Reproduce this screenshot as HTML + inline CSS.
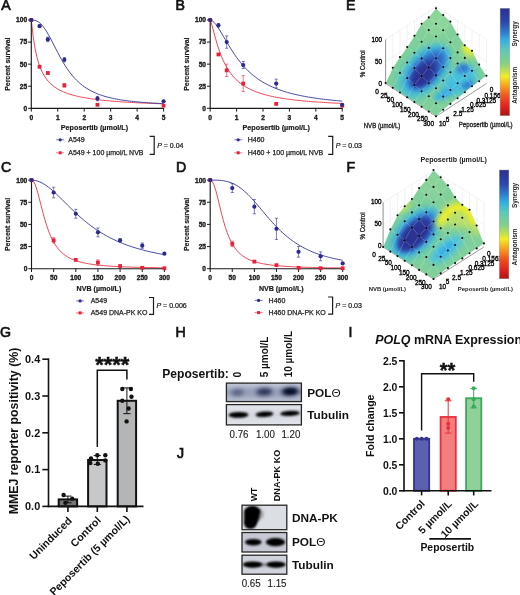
<!DOCTYPE html>
<html><head><meta charset="utf-8"><title>Figure</title>
<style>html,body{margin:0;padding:0;background:#fff}svg{display:block}text{font-family:"Liberation Sans", sans-serif}</style>
</head><body>
<svg width="520" height="595" viewBox="0 0 520 595">
<rect width="520" height="595" fill="#fff"/>
<text x="1.20" y="10.00" font-size="14.2" font-weight="normal" text-anchor="start" fill="#111" stroke="#111" stroke-width="0.65">A</text>
<text x="175.60" y="9.60" font-size="14.2" font-weight="normal" text-anchor="start" fill="#111" stroke="#111" stroke-width="0.65">B</text>
<text x="345.90" y="10.20" font-size="14.2" font-weight="normal" text-anchor="start" fill="#111" stroke="#111" stroke-width="0.65">E</text>
<text x="0.90" y="171.80" font-size="14.2" font-weight="normal" text-anchor="start" fill="#111" stroke="#111" stroke-width="0.65">C</text>
<text x="175.90" y="171.80" font-size="14.2" font-weight="normal" text-anchor="start" fill="#111" stroke="#111" stroke-width="0.65">D</text>
<text x="346.40" y="172.30" font-size="14.2" font-weight="normal" text-anchor="start" fill="#111" stroke="#111" stroke-width="0.65">F</text>
<text x="-0.10" y="337.20" font-size="14.2" font-weight="normal" text-anchor="start" fill="#111" stroke="#111" stroke-width="0.65">G</text>
<text x="175.40" y="337.00" font-size="14.2" font-weight="normal" text-anchor="start" fill="#111" stroke="#111" stroke-width="0.65">H</text>
<text x="348.50" y="337.00" font-size="14.2" font-weight="normal" text-anchor="start" fill="#111" stroke="#111" stroke-width="0.65">I</text>
<text x="177.10" y="458.00" font-size="14.2" font-weight="normal" text-anchor="start" fill="#111" stroke="#111" stroke-width="0.65">J</text>
<polyline points="31.30,20.00 33.19,36.87 35.08,48.73 36.97,57.33 38.86,63.81 40.75,68.87 42.64,72.91 44.53,76.22 46.42,78.97 48.31,81.30 50.20,83.29 52.09,85.01 53.98,86.52 55.87,87.84 57.76,89.02 59.65,90.06 61.54,91.01 63.43,91.86 65.32,92.63 67.21,93.34 69.10,93.98 70.99,94.58 72.88,95.12 74.77,95.63 76.66,96.10 78.55,96.53 80.44,96.94 82.33,97.32 84.22,97.67 86.11,98.00 88.00,98.32 89.89,98.61 91.78,98.89 93.67,99.15 95.56,99.40 97.45,99.64 99.34,99.86 101.23,100.08 103.12,100.28 105.01,100.47 106.90,100.66 108.79,100.83 110.68,101.00 112.57,101.16 114.46,101.31 116.35,101.46 118.24,101.60 120.13,101.74 122.02,101.87 123.91,102.00 125.80,102.12 127.69,102.23 129.58,102.34 131.47,102.45 133.36,102.56 135.25,102.66 137.14,102.75 139.03,102.85 140.92,102.94 142.81,103.03 144.70,103.11 146.59,103.20 148.48,103.28 150.37,103.35 152.26,103.43 154.15,103.50 156.04,103.57 157.93,103.64 159.82,103.71 161.71,103.77 163.60,103.84" fill="none" stroke="#ee3c4c" stroke-width="0.95"/>
<polyline points="31.30,20.00 33.19,20.07 35.08,20.40 36.97,21.10 38.86,22.23 40.75,23.81 42.64,25.87 44.53,28.36 46.42,31.24 48.31,34.44 50.20,37.89 52.09,41.50 53.98,45.20 55.87,48.90 57.76,52.56 59.65,56.12 61.54,59.54 63.43,62.79 65.32,65.87 67.21,68.74 69.10,71.43 70.99,73.92 72.88,76.23 74.77,78.36 76.66,80.32 78.55,82.12 80.44,83.78 82.33,85.31 84.22,86.71 86.11,87.99 88.00,89.17 89.89,90.26 91.78,91.26 93.67,92.18 95.56,93.03 97.45,93.81 99.34,94.54 101.23,95.20 103.12,95.82 105.01,96.40 106.90,96.93 108.79,97.42 110.68,97.88 112.57,98.31 114.46,98.70 116.35,99.07 118.24,99.42 120.13,99.74 122.02,100.05 123.91,100.33 125.80,100.60 127.69,100.85 129.58,101.08 131.47,101.30 133.36,101.51 135.25,101.70 137.14,101.89 139.03,102.06 140.92,102.22 142.81,102.38 144.70,102.52 146.59,102.66 148.48,102.79 150.37,102.92 152.26,103.04 154.15,103.15 156.04,103.26 157.93,103.36 159.82,103.45 161.71,103.55 163.60,103.63" fill="none" stroke="#3d3fa0" stroke-width="0.95"/>
<line x1="31.30" y1="19.60" x2="31.30" y2="108.85" stroke="#1a1a1a" stroke-width="1.15"/>
<line x1="30.75" y1="108.30" x2="164.10" y2="108.30" stroke="#1a1a1a" stroke-width="1.15"/>
<line x1="28.10" y1="108.30" x2="31.30" y2="108.30" stroke="#1a1a1a" stroke-width="1.0"/>
<text x="27.10" y="110.70" font-size="6.6" font-weight="bold" text-anchor="end" fill="#1a1a1a" stroke="#1a1a1a" stroke-width="0.35">0</text>
<line x1="28.10" y1="86.22" x2="31.30" y2="86.22" stroke="#1a1a1a" stroke-width="1.0"/>
<text x="27.10" y="88.62" font-size="6.6" font-weight="bold" text-anchor="end" fill="#1a1a1a" stroke="#1a1a1a" stroke-width="0.35">25</text>
<line x1="28.10" y1="64.15" x2="31.30" y2="64.15" stroke="#1a1a1a" stroke-width="1.0"/>
<text x="27.10" y="66.55" font-size="6.6" font-weight="bold" text-anchor="end" fill="#1a1a1a" stroke="#1a1a1a" stroke-width="0.35">50</text>
<line x1="28.10" y1="42.08" x2="31.30" y2="42.08" stroke="#1a1a1a" stroke-width="1.0"/>
<text x="27.10" y="44.48" font-size="6.6" font-weight="bold" text-anchor="end" fill="#1a1a1a" stroke="#1a1a1a" stroke-width="0.35">75</text>
<line x1="28.10" y1="20.00" x2="31.30" y2="20.00" stroke="#1a1a1a" stroke-width="1.0"/>
<text x="27.10" y="22.40" font-size="6.6" font-weight="bold" text-anchor="end" fill="#1a1a1a" stroke="#1a1a1a" stroke-width="0.35">100</text>
<line x1="31.30" y1="108.30" x2="31.30" y2="111.60" stroke="#1a1a1a" stroke-width="1.0"/>
<text x="31.30" y="119.60" font-size="6.6" font-weight="bold" text-anchor="middle" fill="#1a1a1a" stroke="#1a1a1a" stroke-width="0.35">0</text>
<line x1="57.76" y1="108.30" x2="57.76" y2="111.60" stroke="#1a1a1a" stroke-width="1.0"/>
<text x="57.76" y="119.60" font-size="6.6" font-weight="bold" text-anchor="middle" fill="#1a1a1a" stroke="#1a1a1a" stroke-width="0.35">1</text>
<line x1="84.22" y1="108.30" x2="84.22" y2="111.60" stroke="#1a1a1a" stroke-width="1.0"/>
<text x="84.22" y="119.60" font-size="6.6" font-weight="bold" text-anchor="middle" fill="#1a1a1a" stroke="#1a1a1a" stroke-width="0.35">2</text>
<line x1="110.68" y1="108.30" x2="110.68" y2="111.60" stroke="#1a1a1a" stroke-width="1.0"/>
<text x="110.68" y="119.60" font-size="6.6" font-weight="bold" text-anchor="middle" fill="#1a1a1a" stroke="#1a1a1a" stroke-width="0.35">3</text>
<line x1="137.14" y1="108.30" x2="137.14" y2="111.60" stroke="#1a1a1a" stroke-width="1.0"/>
<text x="137.14" y="119.60" font-size="6.6" font-weight="bold" text-anchor="middle" fill="#1a1a1a" stroke="#1a1a1a" stroke-width="0.35">4</text>
<line x1="163.60" y1="108.30" x2="163.60" y2="111.60" stroke="#1a1a1a" stroke-width="1.0"/>
<text x="163.60" y="119.60" font-size="6.6" font-weight="bold" text-anchor="middle" fill="#1a1a1a" stroke="#1a1a1a" stroke-width="0.35">5</text>
<text x="94.45" y="130.10" font-size="7.2" font-weight="bold" text-anchor="middle" fill="#1a1a1a" stroke="#1a1a1a" stroke-width="0.2">Peposertib (µmol/L)</text>
<text font-size="6.9" font-weight="bold" text-anchor="middle" fill="#1a1a1a" stroke="#1a1a1a" stroke-width="0.2" transform="translate(9.80 64.15) rotate(-90)">Percent survival</text>
<rect x="29.40" y="18.10" width="3.80" height="3.80" fill="#e8203a" stroke="none" stroke-width="1"/>
<line x1="39.57" y1="67.68" x2="39.57" y2="65.92" stroke="#e8203a" stroke-width="0.6"/>
<line x1="37.97" y1="67.68" x2="41.17" y2="67.68" stroke="#e8203a" stroke-width="0.6"/>
<line x1="37.97" y1="65.92" x2="41.17" y2="65.92" stroke="#e8203a" stroke-width="0.6"/>
<rect x="37.67" y="64.90" width="3.80" height="3.80" fill="#e8203a" stroke="none" stroke-width="1"/>
<line x1="47.84" y1="73.86" x2="47.84" y2="72.10" stroke="#e8203a" stroke-width="0.6"/>
<line x1="46.24" y1="73.86" x2="49.44" y2="73.86" stroke="#e8203a" stroke-width="0.6"/>
<line x1="46.24" y1="72.10" x2="49.44" y2="72.10" stroke="#e8203a" stroke-width="0.6"/>
<rect x="45.94" y="71.08" width="3.80" height="3.80" fill="#e8203a" stroke="none" stroke-width="1"/>
<line x1="64.38" y1="87.11" x2="64.38" y2="83.58" stroke="#e8203a" stroke-width="0.6"/>
<line x1="62.77" y1="87.11" x2="65.97" y2="87.11" stroke="#e8203a" stroke-width="0.6"/>
<line x1="62.77" y1="83.58" x2="65.97" y2="83.58" stroke="#e8203a" stroke-width="0.6"/>
<rect x="62.48" y="83.44" width="3.80" height="3.80" fill="#e8203a" stroke="none" stroke-width="1"/>
<rect x="95.55" y="102.87" width="3.80" height="3.80" fill="#e8203a" stroke="none" stroke-width="1"/>
<rect x="161.70" y="103.75" width="3.80" height="3.80" fill="#e8203a" stroke="none" stroke-width="1"/>
<circle cx="31.30" cy="20.00" r="2.1" fill="#2b2a8c"/>
<line x1="39.57" y1="27.51" x2="39.57" y2="24.86" stroke="#2b2a8c" stroke-width="0.6"/>
<line x1="37.97" y1="27.51" x2="41.17" y2="27.51" stroke="#2b2a8c" stroke-width="0.6"/>
<line x1="37.97" y1="24.86" x2="41.17" y2="24.86" stroke="#2b2a8c" stroke-width="0.6"/>
<circle cx="39.57" cy="26.18" r="2.1" fill="#2b2a8c"/>
<line x1="47.84" y1="41.63" x2="47.84" y2="37.22" stroke="#2b2a8c" stroke-width="0.6"/>
<line x1="46.24" y1="41.63" x2="49.44" y2="41.63" stroke="#2b2a8c" stroke-width="0.6"/>
<line x1="46.24" y1="37.22" x2="49.44" y2="37.22" stroke="#2b2a8c" stroke-width="0.6"/>
<circle cx="47.84" cy="39.43" r="2.1" fill="#2b2a8c"/>
<line x1="64.38" y1="61.94" x2="64.38" y2="57.53" stroke="#2b2a8c" stroke-width="0.6"/>
<line x1="62.77" y1="61.94" x2="65.97" y2="61.94" stroke="#2b2a8c" stroke-width="0.6"/>
<line x1="62.77" y1="57.53" x2="65.97" y2="57.53" stroke="#2b2a8c" stroke-width="0.6"/>
<circle cx="64.38" cy="59.73" r="2.1" fill="#2b2a8c"/>
<line x1="97.45" y1="100.79" x2="97.45" y2="96.38" stroke="#2b2a8c" stroke-width="0.6"/>
<line x1="95.85" y1="100.79" x2="99.05" y2="100.79" stroke="#2b2a8c" stroke-width="0.6"/>
<line x1="95.85" y1="96.38" x2="99.05" y2="96.38" stroke="#2b2a8c" stroke-width="0.6"/>
<circle cx="97.45" cy="98.59" r="2.1" fill="#2b2a8c"/>
<circle cx="163.60" cy="101.24" r="2.1" fill="#2b2a8c"/>
<line x1="56.20" y1="139.80" x2="64.20" y2="139.80" stroke="#3d3fa0" stroke-width="0.7"/>
<circle cx="60.20" cy="139.80" r="1.6" fill="#2b2a8c"/>
<line x1="56.20" y1="152.80" x2="64.20" y2="152.80" stroke="#ee3c4c" stroke-width="0.7"/>
<rect x="58.70" y="151.30" width="3.00" height="3.00" fill="#e8203a" stroke="none" stroke-width="1"/>
<text x="68.30" y="142.30" font-size="7.0" font-weight="normal" text-anchor="start" fill="#222" stroke="#222" stroke-width="0.25">A549</text>
<text x="68.30" y="155.30" font-size="7.0" font-weight="normal" text-anchor="start" fill="#222" stroke="#222" stroke-width="0.25">A549 + 100 µmol/L NVB</text>
<polyline points="149.70,136.40 154.20,136.40 154.20,154.30 149.70,154.30" fill="none" stroke="#1a1a1a" stroke-width="1.2"/>
<text x="157.20" y="147.60" font-size="7.0" font-weight="normal" text-anchor="start" fill="#111" stroke="#111" stroke-width="0.2"><tspan font-style="italic">P</tspan> = 0.04</text>
<polyline points="210.20,20.00 212.09,25.68 213.97,32.79 215.86,39.68 217.74,45.98 219.63,51.60 221.51,56.55 223.40,60.90 225.29,64.73 227.17,68.10 229.06,71.08 230.94,73.71 232.83,76.06 234.71,78.16 236.60,80.04 238.49,81.74 240.37,83.27 242.26,84.66 244.14,85.92 246.03,87.08 247.91,88.13 249.80,89.10 251.69,90.00 253.57,90.82 255.46,91.58 257.34,92.29 259.23,92.95 261.11,93.56 263.00,94.13 264.89,94.67 266.77,95.17 268.66,95.64 270.54,96.08 272.43,96.49 274.31,96.88 276.20,97.25 278.09,97.60 279.97,97.93 281.86,98.25 283.74,98.54 285.63,98.82 287.51,99.09 289.40,99.35 291.29,99.59 293.17,99.82 295.06,100.04 296.94,100.26 298.83,100.46 300.71,100.65 302.60,100.84 304.49,101.01 306.37,101.18 308.26,101.35 310.14,101.50 312.03,101.66 313.91,101.80 315.80,101.94 317.69,102.07 319.57,102.20 321.46,102.33 323.34,102.45 325.23,102.57 327.11,102.68 329.00,102.79 330.89,102.89 332.77,102.99 334.66,103.09 336.54,103.19 338.43,103.28 340.31,103.37 342.20,103.45" fill="none" stroke="#ee3c4c" stroke-width="0.95"/>
<polyline points="210.20,20.00 212.09,20.72 213.97,22.31 215.86,24.48 217.74,27.08 219.63,29.98 221.51,33.07 223.40,36.26 225.29,39.49 227.17,42.70 229.06,45.85 230.94,48.91 232.83,51.86 234.71,54.68 236.60,57.36 238.49,59.91 240.37,62.32 242.26,64.59 244.14,66.74 246.03,68.75 247.91,70.65 249.80,72.43 251.69,74.10 253.57,75.67 255.46,77.14 257.34,78.52 259.23,79.83 261.11,81.05 263.00,82.20 264.89,83.28 266.77,84.30 268.66,85.26 270.54,86.17 272.43,87.03 274.31,87.84 276.20,88.60 278.09,89.32 279.97,90.01 281.86,90.66 283.74,91.27 285.63,91.86 287.51,92.41 289.40,92.94 291.29,93.44 293.17,93.92 295.06,94.37 296.94,94.80 298.83,95.22 300.71,95.61 302.60,95.99 304.49,96.34 306.37,96.69 308.26,97.02 310.14,97.33 312.03,97.63 313.91,97.92 315.80,98.20 317.69,98.47 319.57,98.72 321.46,98.97 323.34,99.20 325.23,99.43 327.11,99.65 329.00,99.86 330.89,100.06 332.77,100.25 334.66,100.44 336.54,100.62 338.43,100.80 340.31,100.97 342.20,101.13" fill="none" stroke="#3d3fa0" stroke-width="0.95"/>
<line x1="210.20" y1="19.60" x2="210.20" y2="108.85" stroke="#1a1a1a" stroke-width="1.15"/>
<line x1="209.65" y1="108.30" x2="342.70" y2="108.30" stroke="#1a1a1a" stroke-width="1.15"/>
<line x1="207.00" y1="108.30" x2="210.20" y2="108.30" stroke="#1a1a1a" stroke-width="1.0"/>
<text x="206.00" y="110.70" font-size="6.6" font-weight="bold" text-anchor="end" fill="#1a1a1a" stroke="#1a1a1a" stroke-width="0.35">0</text>
<line x1="207.00" y1="86.22" x2="210.20" y2="86.22" stroke="#1a1a1a" stroke-width="1.0"/>
<text x="206.00" y="88.62" font-size="6.6" font-weight="bold" text-anchor="end" fill="#1a1a1a" stroke="#1a1a1a" stroke-width="0.35">25</text>
<line x1="207.00" y1="64.15" x2="210.20" y2="64.15" stroke="#1a1a1a" stroke-width="1.0"/>
<text x="206.00" y="66.55" font-size="6.6" font-weight="bold" text-anchor="end" fill="#1a1a1a" stroke="#1a1a1a" stroke-width="0.35">50</text>
<line x1="207.00" y1="42.08" x2="210.20" y2="42.08" stroke="#1a1a1a" stroke-width="1.0"/>
<text x="206.00" y="44.48" font-size="6.6" font-weight="bold" text-anchor="end" fill="#1a1a1a" stroke="#1a1a1a" stroke-width="0.35">75</text>
<line x1="207.00" y1="20.00" x2="210.20" y2="20.00" stroke="#1a1a1a" stroke-width="1.0"/>
<text x="206.00" y="22.40" font-size="6.6" font-weight="bold" text-anchor="end" fill="#1a1a1a" stroke="#1a1a1a" stroke-width="0.35">100</text>
<line x1="210.20" y1="108.30" x2="210.20" y2="111.60" stroke="#1a1a1a" stroke-width="1.0"/>
<text x="210.20" y="119.60" font-size="6.6" font-weight="bold" text-anchor="middle" fill="#1a1a1a" stroke="#1a1a1a" stroke-width="0.35">0</text>
<line x1="236.60" y1="108.30" x2="236.60" y2="111.60" stroke="#1a1a1a" stroke-width="1.0"/>
<text x="236.60" y="119.60" font-size="6.6" font-weight="bold" text-anchor="middle" fill="#1a1a1a" stroke="#1a1a1a" stroke-width="0.35">1</text>
<line x1="263.00" y1="108.30" x2="263.00" y2="111.60" stroke="#1a1a1a" stroke-width="1.0"/>
<text x="263.00" y="119.60" font-size="6.6" font-weight="bold" text-anchor="middle" fill="#1a1a1a" stroke="#1a1a1a" stroke-width="0.35">2</text>
<line x1="289.40" y1="108.30" x2="289.40" y2="111.60" stroke="#1a1a1a" stroke-width="1.0"/>
<text x="289.40" y="119.60" font-size="6.6" font-weight="bold" text-anchor="middle" fill="#1a1a1a" stroke="#1a1a1a" stroke-width="0.35">3</text>
<line x1="315.80" y1="108.30" x2="315.80" y2="111.60" stroke="#1a1a1a" stroke-width="1.0"/>
<text x="315.80" y="119.60" font-size="6.6" font-weight="bold" text-anchor="middle" fill="#1a1a1a" stroke="#1a1a1a" stroke-width="0.35">4</text>
<line x1="342.20" y1="108.30" x2="342.20" y2="111.60" stroke="#1a1a1a" stroke-width="1.0"/>
<text x="342.20" y="119.60" font-size="6.6" font-weight="bold" text-anchor="middle" fill="#1a1a1a" stroke="#1a1a1a" stroke-width="0.35">5</text>
<text x="276.20" y="130.10" font-size="7.2" font-weight="bold" text-anchor="middle" fill="#1a1a1a" stroke="#1a1a1a" stroke-width="0.2">Peposertib (µmol/L)</text>
<text font-size="6.9" font-weight="bold" text-anchor="middle" fill="#1a1a1a" stroke="#1a1a1a" stroke-width="0.2" transform="translate(188.70 64.15) rotate(-90)">Percent survival</text>
<rect x="208.30" y="18.10" width="3.80" height="3.80" fill="#e8203a" stroke="none" stroke-width="1"/>
<line x1="218.45" y1="55.32" x2="218.45" y2="53.55" stroke="#e8203a" stroke-width="0.6"/>
<line x1="216.85" y1="55.32" x2="220.05" y2="55.32" stroke="#e8203a" stroke-width="0.6"/>
<line x1="216.85" y1="53.55" x2="220.05" y2="53.55" stroke="#e8203a" stroke-width="0.6"/>
<rect x="216.55" y="52.54" width="3.80" height="3.80" fill="#e8203a" stroke="none" stroke-width="1"/>
<line x1="226.70" y1="76.51" x2="226.70" y2="64.15" stroke="#e8203a" stroke-width="0.6"/>
<line x1="225.10" y1="76.51" x2="228.30" y2="76.51" stroke="#e8203a" stroke-width="0.6"/>
<line x1="225.10" y1="64.15" x2="228.30" y2="64.15" stroke="#e8203a" stroke-width="0.6"/>
<rect x="224.80" y="68.43" width="3.80" height="3.80" fill="#e8203a" stroke="none" stroke-width="1"/>
<line x1="243.20" y1="91.52" x2="243.20" y2="75.63" stroke="#e8203a" stroke-width="0.6"/>
<line x1="241.60" y1="91.52" x2="244.80" y2="91.52" stroke="#e8203a" stroke-width="0.6"/>
<line x1="241.60" y1="75.63" x2="244.80" y2="75.63" stroke="#e8203a" stroke-width="0.6"/>
<rect x="241.30" y="81.68" width="3.80" height="3.80" fill="#e8203a" stroke="none" stroke-width="1"/>
<rect x="274.30" y="101.98" width="3.80" height="3.80" fill="#e8203a" stroke="none" stroke-width="1"/>
<rect x="340.30" y="103.75" width="3.80" height="3.80" fill="#e8203a" stroke="none" stroke-width="1"/>
<circle cx="210.20" cy="20.00" r="2.1" fill="#2b2a8c"/>
<line x1="218.45" y1="27.06" x2="218.45" y2="23.53" stroke="#2b2a8c" stroke-width="0.6"/>
<line x1="216.85" y1="27.06" x2="220.05" y2="27.06" stroke="#2b2a8c" stroke-width="0.6"/>
<line x1="216.85" y1="23.53" x2="220.05" y2="23.53" stroke="#2b2a8c" stroke-width="0.6"/>
<circle cx="218.45" cy="25.30" r="2.1" fill="#2b2a8c"/>
<line x1="226.70" y1="48.26" x2="226.70" y2="35.89" stroke="#2b2a8c" stroke-width="0.6"/>
<line x1="225.10" y1="48.26" x2="228.30" y2="48.26" stroke="#2b2a8c" stroke-width="0.6"/>
<line x1="225.10" y1="35.89" x2="228.30" y2="35.89" stroke="#2b2a8c" stroke-width="0.6"/>
<circle cx="226.70" cy="42.08" r="2.1" fill="#2b2a8c"/>
<line x1="243.20" y1="68.56" x2="243.20" y2="61.50" stroke="#2b2a8c" stroke-width="0.6"/>
<line x1="241.60" y1="68.56" x2="244.80" y2="68.56" stroke="#2b2a8c" stroke-width="0.6"/>
<line x1="241.60" y1="61.50" x2="244.80" y2="61.50" stroke="#2b2a8c" stroke-width="0.6"/>
<circle cx="243.20" cy="65.03" r="2.1" fill="#2b2a8c"/>
<line x1="276.20" y1="87.99" x2="276.20" y2="79.16" stroke="#2b2a8c" stroke-width="0.6"/>
<line x1="274.60" y1="87.99" x2="277.80" y2="87.99" stroke="#2b2a8c" stroke-width="0.6"/>
<line x1="274.60" y1="79.16" x2="277.80" y2="79.16" stroke="#2b2a8c" stroke-width="0.6"/>
<circle cx="276.20" cy="83.58" r="2.1" fill="#2b2a8c"/>
<circle cx="342.20" cy="104.77" r="2.1" fill="#2b2a8c"/>
<line x1="234.20" y1="139.80" x2="242.20" y2="139.80" stroke="#3d3fa0" stroke-width="0.7"/>
<circle cx="238.20" cy="139.80" r="1.6" fill="#2b2a8c"/>
<line x1="234.20" y1="152.80" x2="242.20" y2="152.80" stroke="#ee3c4c" stroke-width="0.7"/>
<rect x="236.70" y="151.30" width="3.00" height="3.00" fill="#e8203a" stroke="none" stroke-width="1"/>
<text x="247.70" y="142.30" font-size="7.0" font-weight="normal" text-anchor="start" fill="#222" stroke="#222" stroke-width="0.25">H460</text>
<text x="247.70" y="155.30" font-size="7.0" font-weight="normal" text-anchor="start" fill="#222" stroke="#222" stroke-width="0.25">H460 + 100 µmol/L NVB</text>
<polyline points="328.20,136.40 332.70,136.40 332.70,154.30 328.20,154.30" fill="none" stroke="#1a1a1a" stroke-width="1.2"/>
<text x="335.70" y="147.60" font-size="7.0" font-weight="normal" text-anchor="start" fill="#111" stroke="#111" stroke-width="0.2"><tspan font-style="italic">P</tspan> = 0.03</text>
<polyline points="31.50,180.10 33.40,181.27 35.30,184.92 37.20,190.62 39.09,197.62 40.99,205.13 42.89,212.53 44.79,219.43 46.69,225.62 48.59,231.05 50.49,235.74 52.38,239.77 54.28,243.21 56.18,246.15 58.08,248.66 59.98,250.82 61.88,252.68 63.78,254.28 65.67,255.67 67.57,256.88 69.47,257.94 71.37,258.87 73.27,259.70 75.17,260.42 77.07,261.07 78.96,261.65 80.86,262.16 82.76,262.63 84.66,263.05 86.56,263.42 88.46,263.77 90.36,264.08 92.25,264.36 94.15,264.62 96.05,264.86 97.95,265.07 99.85,265.27 101.75,265.46 103.65,265.63 105.54,265.79 107.44,265.93 109.34,266.07 111.24,266.20 113.14,266.31 115.04,266.42 116.94,266.52 118.83,266.62 120.73,266.71 122.63,266.79 124.53,266.87 126.43,266.95 128.33,267.02 130.23,267.08 132.12,267.15 134.02,267.21 135.92,267.26 137.82,267.31 139.72,267.36 141.62,267.41 143.52,267.46 145.41,267.50 147.31,267.54 149.21,267.58 151.11,267.61 153.01,267.65 154.91,267.68 156.81,267.71 158.70,267.74 160.60,267.77 162.50,267.80 164.40,267.83" fill="none" stroke="#ee3c4c" stroke-width="0.95"/>
<polyline points="31.50,180.10 33.40,180.20 35.30,180.48 37.20,180.96 39.09,181.61 40.99,182.44 42.89,183.44 44.79,184.58 46.69,185.86 48.59,187.27 50.49,188.79 52.38,190.40 54.28,192.09 56.18,193.85 58.08,195.66 59.98,197.51 61.88,199.39 63.78,201.28 65.67,203.17 67.57,205.07 69.47,206.95 71.37,208.81 73.27,210.64 75.17,212.44 77.07,214.21 78.96,215.94 80.86,217.62 82.76,219.27 84.66,220.86 86.56,222.41 88.46,223.91 90.36,225.36 92.25,226.77 94.15,228.12 96.05,229.43 97.95,230.70 99.85,231.91 101.75,233.09 103.65,234.22 105.54,235.30 107.44,236.35 109.34,237.36 111.24,238.33 113.14,239.26 115.04,240.16 116.94,241.02 118.83,241.85 120.73,242.65 122.63,243.41 124.53,244.15 126.43,244.86 128.33,245.55 130.23,246.21 132.12,246.84 134.02,247.45 135.92,248.04 137.82,248.60 139.72,249.15 141.62,249.67 143.52,250.18 145.41,250.66 147.31,251.13 149.21,251.59 151.11,252.03 153.01,252.45 154.91,252.86 156.81,253.25 158.70,253.63 160.60,254.00 162.50,254.35 164.40,254.69" fill="none" stroke="#3d3fa0" stroke-width="0.95"/>
<line x1="31.50" y1="179.70" x2="31.50" y2="269.25" stroke="#1a1a1a" stroke-width="1.15"/>
<line x1="30.95" y1="268.70" x2="164.90" y2="268.70" stroke="#1a1a1a" stroke-width="1.15"/>
<line x1="28.30" y1="268.70" x2="31.50" y2="268.70" stroke="#1a1a1a" stroke-width="1.0"/>
<text x="27.30" y="271.10" font-size="6.6" font-weight="bold" text-anchor="end" fill="#1a1a1a" stroke="#1a1a1a" stroke-width="0.35">0</text>
<line x1="28.30" y1="246.55" x2="31.50" y2="246.55" stroke="#1a1a1a" stroke-width="1.0"/>
<text x="27.30" y="248.95" font-size="6.6" font-weight="bold" text-anchor="end" fill="#1a1a1a" stroke="#1a1a1a" stroke-width="0.35">25</text>
<line x1="28.30" y1="224.40" x2="31.50" y2="224.40" stroke="#1a1a1a" stroke-width="1.0"/>
<text x="27.30" y="226.80" font-size="6.6" font-weight="bold" text-anchor="end" fill="#1a1a1a" stroke="#1a1a1a" stroke-width="0.35">50</text>
<line x1="28.30" y1="202.25" x2="31.50" y2="202.25" stroke="#1a1a1a" stroke-width="1.0"/>
<text x="27.30" y="204.65" font-size="6.6" font-weight="bold" text-anchor="end" fill="#1a1a1a" stroke="#1a1a1a" stroke-width="0.35">75</text>
<line x1="28.30" y1="180.10" x2="31.50" y2="180.10" stroke="#1a1a1a" stroke-width="1.0"/>
<text x="27.30" y="182.50" font-size="6.6" font-weight="bold" text-anchor="end" fill="#1a1a1a" stroke="#1a1a1a" stroke-width="0.35">100</text>
<line x1="31.50" y1="268.70" x2="31.50" y2="272.00" stroke="#1a1a1a" stroke-width="1.0"/>
<text x="31.50" y="280.00" font-size="6.6" font-weight="bold" text-anchor="middle" fill="#1a1a1a" stroke="#1a1a1a" stroke-width="0.35">0</text>
<line x1="53.65" y1="268.70" x2="53.65" y2="272.00" stroke="#1a1a1a" stroke-width="1.0"/>
<text x="53.65" y="280.00" font-size="6.6" font-weight="bold" text-anchor="middle" fill="#1a1a1a" stroke="#1a1a1a" stroke-width="0.35">50</text>
<line x1="75.80" y1="268.70" x2="75.80" y2="272.00" stroke="#1a1a1a" stroke-width="1.0"/>
<text x="75.80" y="280.00" font-size="6.6" font-weight="bold" text-anchor="middle" fill="#1a1a1a" stroke="#1a1a1a" stroke-width="0.35">100</text>
<line x1="97.95" y1="268.70" x2="97.95" y2="272.00" stroke="#1a1a1a" stroke-width="1.0"/>
<text x="97.95" y="280.00" font-size="6.6" font-weight="bold" text-anchor="middle" fill="#1a1a1a" stroke="#1a1a1a" stroke-width="0.35">150</text>
<line x1="120.10" y1="268.70" x2="120.10" y2="272.00" stroke="#1a1a1a" stroke-width="1.0"/>
<text x="120.10" y="280.00" font-size="6.6" font-weight="bold" text-anchor="middle" fill="#1a1a1a" stroke="#1a1a1a" stroke-width="0.35">200</text>
<line x1="142.25" y1="268.70" x2="142.25" y2="272.00" stroke="#1a1a1a" stroke-width="1.0"/>
<text x="142.25" y="280.00" font-size="6.6" font-weight="bold" text-anchor="middle" fill="#1a1a1a" stroke="#1a1a1a" stroke-width="0.35">250</text>
<line x1="164.40" y1="268.70" x2="164.40" y2="272.00" stroke="#1a1a1a" stroke-width="1.0"/>
<text x="164.40" y="280.00" font-size="6.6" font-weight="bold" text-anchor="middle" fill="#1a1a1a" stroke="#1a1a1a" stroke-width="0.35">300</text>
<text x="98.95" y="290.50" font-size="7.1" font-weight="bold" text-anchor="middle" fill="#1a1a1a" stroke="#1a1a1a" stroke-width="0.2">NVB (µmol/L)</text>
<text font-size="6.9" font-weight="bold" text-anchor="middle" fill="#1a1a1a" stroke="#1a1a1a" stroke-width="0.2" transform="translate(10.00 224.40) rotate(-90)">Percent survival</text>
<rect x="29.60" y="178.20" width="3.80" height="3.80" fill="#e8203a" stroke="none" stroke-width="1"/>
<line x1="53.65" y1="243.01" x2="53.65" y2="237.69" stroke="#e8203a" stroke-width="0.6"/>
<line x1="52.05" y1="243.01" x2="55.25" y2="243.01" stroke="#e8203a" stroke-width="0.6"/>
<line x1="52.05" y1="237.69" x2="55.25" y2="237.69" stroke="#e8203a" stroke-width="0.6"/>
<rect x="51.75" y="238.45" width="3.80" height="3.80" fill="#e8203a" stroke="none" stroke-width="1"/>
<rect x="73.90" y="257.94" width="3.80" height="3.80" fill="#e8203a" stroke="none" stroke-width="1"/>
<line x1="97.95" y1="265.16" x2="97.95" y2="259.84" stroke="#e8203a" stroke-width="0.6"/>
<line x1="96.35" y1="265.16" x2="99.55" y2="265.16" stroke="#e8203a" stroke-width="0.6"/>
<line x1="96.35" y1="259.84" x2="99.55" y2="259.84" stroke="#e8203a" stroke-width="0.6"/>
<rect x="96.05" y="260.60" width="3.80" height="3.80" fill="#e8203a" stroke="none" stroke-width="1"/>
<rect x="118.20" y="264.14" width="3.80" height="3.80" fill="#e8203a" stroke="none" stroke-width="1"/>
<rect x="140.35" y="265.91" width="3.80" height="3.80" fill="#e8203a" stroke="none" stroke-width="1"/>
<rect x="162.50" y="266.36" width="3.80" height="3.80" fill="#e8203a" stroke="none" stroke-width="1"/>
<circle cx="31.50" cy="180.10" r="2.1" fill="#2b2a8c"/>
<line x1="53.65" y1="197.82" x2="53.65" y2="187.19" stroke="#2b2a8c" stroke-width="0.6"/>
<line x1="52.05" y1="197.82" x2="55.25" y2="197.82" stroke="#2b2a8c" stroke-width="0.6"/>
<line x1="52.05" y1="187.19" x2="55.25" y2="187.19" stroke="#2b2a8c" stroke-width="0.6"/>
<circle cx="53.65" cy="192.50" r="2.1" fill="#2b2a8c"/>
<line x1="75.80" y1="218.20" x2="75.80" y2="209.34" stroke="#2b2a8c" stroke-width="0.6"/>
<line x1="74.20" y1="218.20" x2="77.40" y2="218.20" stroke="#2b2a8c" stroke-width="0.6"/>
<line x1="74.20" y1="209.34" x2="77.40" y2="209.34" stroke="#2b2a8c" stroke-width="0.6"/>
<circle cx="75.80" cy="213.77" r="2.1" fill="#2b2a8c"/>
<line x1="97.95" y1="236.80" x2="97.95" y2="227.94" stroke="#2b2a8c" stroke-width="0.6"/>
<line x1="96.35" y1="236.80" x2="99.55" y2="236.80" stroke="#2b2a8c" stroke-width="0.6"/>
<line x1="96.35" y1="227.94" x2="99.55" y2="227.94" stroke="#2b2a8c" stroke-width="0.6"/>
<circle cx="97.95" cy="232.37" r="2.1" fill="#2b2a8c"/>
<line x1="120.10" y1="242.12" x2="120.10" y2="238.58" stroke="#2b2a8c" stroke-width="0.6"/>
<line x1="118.50" y1="242.12" x2="121.70" y2="242.12" stroke="#2b2a8c" stroke-width="0.6"/>
<line x1="118.50" y1="238.58" x2="121.70" y2="238.58" stroke="#2b2a8c" stroke-width="0.6"/>
<circle cx="120.10" cy="240.35" r="2.1" fill="#2b2a8c"/>
<line x1="142.25" y1="248.32" x2="142.25" y2="243.01" stroke="#2b2a8c" stroke-width="0.6"/>
<line x1="140.65" y1="248.32" x2="143.85" y2="248.32" stroke="#2b2a8c" stroke-width="0.6"/>
<line x1="140.65" y1="243.01" x2="143.85" y2="243.01" stroke="#2b2a8c" stroke-width="0.6"/>
<circle cx="142.25" cy="245.66" r="2.1" fill="#2b2a8c"/>
<circle cx="164.40" cy="253.64" r="2.1" fill="#2b2a8c"/>
<line x1="76.10" y1="300.90" x2="84.10" y2="300.90" stroke="#3d3fa0" stroke-width="0.7"/>
<circle cx="80.10" cy="300.90" r="1.6" fill="#2b2a8c"/>
<line x1="76.10" y1="312.90" x2="84.10" y2="312.90" stroke="#ee3c4c" stroke-width="0.7"/>
<rect x="78.60" y="311.40" width="3.00" height="3.00" fill="#e8203a" stroke="none" stroke-width="1"/>
<text x="90.70" y="303.40" font-size="7.0" font-weight="normal" text-anchor="start" fill="#222" stroke="#222" stroke-width="0.25">A549</text>
<text x="90.70" y="315.40" font-size="7.0" font-weight="normal" text-anchor="start" fill="#222" stroke="#222" stroke-width="0.25">A549 DNA-PK KO</text>
<polyline points="149.00,297.50 153.50,297.50 153.50,314.40 149.00,314.40" fill="none" stroke="#1a1a1a" stroke-width="1.2"/>
<text x="156.50" y="308.20" font-size="7.0" font-weight="normal" text-anchor="start" fill="#111" stroke="#111" stroke-width="0.2"><tspan font-style="italic">P</tspan> = 0.006</text>
<polyline points="210.20,180.10 212.09,181.21 213.99,184.87 215.88,190.76 217.77,198.08 219.66,205.96 221.56,213.71 223.45,220.87 225.34,227.25 227.24,232.79 229.13,237.52 231.02,241.55 232.91,244.95 234.81,247.84 236.70,250.28 238.59,252.36 240.49,254.14 242.38,255.66 244.27,256.98 246.16,258.11 248.06,259.10 249.95,259.97 251.84,260.73 253.74,261.40 255.63,261.99 257.52,262.52 259.41,262.99 261.31,263.41 263.20,263.79 265.09,264.13 266.99,264.43 268.88,264.71 270.77,264.96 272.66,265.20 274.56,265.41 276.45,265.60 278.34,265.78 280.24,265.94 282.13,266.09 284.02,266.23 285.91,266.36 287.81,266.47 289.70,266.58 291.59,266.69 293.49,266.78 295.38,266.87 297.27,266.95 299.16,267.03 301.06,267.10 302.95,267.17 304.84,267.24 306.74,267.30 308.63,267.35 310.52,267.41 312.41,267.46 314.31,267.51 316.20,267.55 318.09,267.59 319.99,267.63 321.88,267.67 323.77,267.71 325.66,267.74 327.56,267.78 329.45,267.81 331.34,267.84 333.24,267.86 335.13,267.89 337.02,267.92 338.91,267.94 340.81,267.96 342.70,267.99" fill="none" stroke="#ee3c4c" stroke-width="0.95"/>
<polyline points="210.20,180.10 212.09,180.10 213.99,180.11 215.88,180.15 217.77,180.22 219.66,180.34 221.56,180.51 223.45,180.77 225.34,181.10 227.24,181.54 229.13,182.08 231.02,182.74 232.91,183.53 234.81,184.44 236.70,185.50 238.59,186.69 240.49,188.02 242.38,189.48 244.27,191.07 246.16,192.79 248.06,194.62 249.95,196.55 251.84,198.57 253.74,200.66 255.63,202.82 257.52,205.02 259.41,207.26 261.31,209.51 263.20,211.77 265.09,214.01 266.99,216.24 268.88,218.43 270.77,220.58 272.66,222.69 274.56,224.74 276.45,226.73 278.34,228.65 280.24,230.50 282.13,232.29 284.02,234.00 285.91,235.65 287.81,237.22 289.70,238.71 291.59,240.14 293.49,241.51 295.38,242.80 297.27,244.03 299.16,245.20 301.06,246.31 302.95,247.36 304.84,248.36 306.74,249.31 308.63,250.20 310.52,251.05 312.41,251.86 314.31,252.62 316.20,253.34 318.09,254.03 319.99,254.67 321.88,255.29 323.77,255.87 325.66,256.42 327.56,256.95 329.45,257.44 331.34,257.91 333.24,258.36 335.13,258.79 337.02,259.19 338.91,259.57 340.81,259.94 342.70,260.28" fill="none" stroke="#3d3fa0" stroke-width="0.95"/>
<line x1="210.20" y1="179.70" x2="210.20" y2="269.25" stroke="#1a1a1a" stroke-width="1.15"/>
<line x1="209.65" y1="268.70" x2="343.20" y2="268.70" stroke="#1a1a1a" stroke-width="1.15"/>
<line x1="207.00" y1="268.70" x2="210.20" y2="268.70" stroke="#1a1a1a" stroke-width="1.0"/>
<text x="206.00" y="271.10" font-size="6.6" font-weight="bold" text-anchor="end" fill="#1a1a1a" stroke="#1a1a1a" stroke-width="0.35">0</text>
<line x1="207.00" y1="246.55" x2="210.20" y2="246.55" stroke="#1a1a1a" stroke-width="1.0"/>
<text x="206.00" y="248.95" font-size="6.6" font-weight="bold" text-anchor="end" fill="#1a1a1a" stroke="#1a1a1a" stroke-width="0.35">25</text>
<line x1="207.00" y1="224.40" x2="210.20" y2="224.40" stroke="#1a1a1a" stroke-width="1.0"/>
<text x="206.00" y="226.80" font-size="6.6" font-weight="bold" text-anchor="end" fill="#1a1a1a" stroke="#1a1a1a" stroke-width="0.35">50</text>
<line x1="207.00" y1="202.25" x2="210.20" y2="202.25" stroke="#1a1a1a" stroke-width="1.0"/>
<text x="206.00" y="204.65" font-size="6.6" font-weight="bold" text-anchor="end" fill="#1a1a1a" stroke="#1a1a1a" stroke-width="0.35">75</text>
<line x1="207.00" y1="180.10" x2="210.20" y2="180.10" stroke="#1a1a1a" stroke-width="1.0"/>
<text x="206.00" y="182.50" font-size="6.6" font-weight="bold" text-anchor="end" fill="#1a1a1a" stroke="#1a1a1a" stroke-width="0.35">100</text>
<line x1="210.20" y1="268.70" x2="210.20" y2="272.00" stroke="#1a1a1a" stroke-width="1.0"/>
<text x="210.20" y="280.00" font-size="6.6" font-weight="bold" text-anchor="middle" fill="#1a1a1a" stroke="#1a1a1a" stroke-width="0.35">0</text>
<line x1="232.28" y1="268.70" x2="232.28" y2="272.00" stroke="#1a1a1a" stroke-width="1.0"/>
<text x="232.28" y="280.00" font-size="6.6" font-weight="bold" text-anchor="middle" fill="#1a1a1a" stroke="#1a1a1a" stroke-width="0.35">50</text>
<line x1="254.37" y1="268.70" x2="254.37" y2="272.00" stroke="#1a1a1a" stroke-width="1.0"/>
<text x="254.37" y="280.00" font-size="6.6" font-weight="bold" text-anchor="middle" fill="#1a1a1a" stroke="#1a1a1a" stroke-width="0.35">100</text>
<line x1="276.45" y1="268.70" x2="276.45" y2="272.00" stroke="#1a1a1a" stroke-width="1.0"/>
<text x="276.45" y="280.00" font-size="6.6" font-weight="bold" text-anchor="middle" fill="#1a1a1a" stroke="#1a1a1a" stroke-width="0.35">150</text>
<line x1="298.53" y1="268.70" x2="298.53" y2="272.00" stroke="#1a1a1a" stroke-width="1.0"/>
<text x="298.53" y="280.00" font-size="6.6" font-weight="bold" text-anchor="middle" fill="#1a1a1a" stroke="#1a1a1a" stroke-width="0.35">200</text>
<line x1="320.62" y1="268.70" x2="320.62" y2="272.00" stroke="#1a1a1a" stroke-width="1.0"/>
<text x="320.62" y="280.00" font-size="6.6" font-weight="bold" text-anchor="middle" fill="#1a1a1a" stroke="#1a1a1a" stroke-width="0.35">250</text>
<line x1="342.70" y1="268.70" x2="342.70" y2="272.00" stroke="#1a1a1a" stroke-width="1.0"/>
<text x="342.70" y="280.00" font-size="6.6" font-weight="bold" text-anchor="middle" fill="#1a1a1a" stroke="#1a1a1a" stroke-width="0.35">300</text>
<text x="281.25" y="290.50" font-size="7.1" font-weight="bold" text-anchor="middle" fill="#1a1a1a" stroke="#1a1a1a" stroke-width="0.2">NVB (µmol/L)</text>
<text font-size="6.9" font-weight="bold" text-anchor="middle" fill="#1a1a1a" stroke="#1a1a1a" stroke-width="0.2" transform="translate(188.70 224.40) rotate(-90)">Percent survival</text>
<rect x="208.30" y="178.20" width="3.80" height="3.80" fill="#e8203a" stroke="none" stroke-width="1"/>
<line x1="232.28" y1="246.55" x2="232.28" y2="241.23" stroke="#e8203a" stroke-width="0.6"/>
<line x1="230.68" y1="246.55" x2="233.88" y2="246.55" stroke="#e8203a" stroke-width="0.6"/>
<line x1="230.68" y1="241.23" x2="233.88" y2="241.23" stroke="#e8203a" stroke-width="0.6"/>
<rect x="230.38" y="241.99" width="3.80" height="3.80" fill="#e8203a" stroke="none" stroke-width="1"/>
<rect x="252.47" y="259.71" width="3.80" height="3.80" fill="#e8203a" stroke="none" stroke-width="1"/>
<rect x="274.55" y="263.26" width="3.80" height="3.80" fill="#e8203a" stroke="none" stroke-width="1"/>
<rect x="296.63" y="265.91" width="3.80" height="3.80" fill="#e8203a" stroke="none" stroke-width="1"/>
<rect x="318.72" y="266.36" width="3.80" height="3.80" fill="#e8203a" stroke="none" stroke-width="1"/>
<rect x="340.80" y="266.36" width="3.80" height="3.80" fill="#e8203a" stroke="none" stroke-width="1"/>
<circle cx="210.20" cy="180.10" r="2.1" fill="#2b2a8c"/>
<line x1="232.28" y1="192.50" x2="232.28" y2="183.64" stroke="#2b2a8c" stroke-width="0.6"/>
<line x1="230.68" y1="192.50" x2="233.88" y2="192.50" stroke="#2b2a8c" stroke-width="0.6"/>
<line x1="230.68" y1="183.64" x2="233.88" y2="183.64" stroke="#2b2a8c" stroke-width="0.6"/>
<circle cx="232.28" cy="188.07" r="2.1" fill="#2b2a8c"/>
<line x1="254.37" y1="213.77" x2="254.37" y2="199.59" stroke="#2b2a8c" stroke-width="0.6"/>
<line x1="252.77" y1="213.77" x2="255.97" y2="213.77" stroke="#2b2a8c" stroke-width="0.6"/>
<line x1="252.77" y1="199.59" x2="255.97" y2="199.59" stroke="#2b2a8c" stroke-width="0.6"/>
<circle cx="254.37" cy="206.68" r="2.1" fill="#2b2a8c"/>
<line x1="276.45" y1="239.46" x2="276.45" y2="218.20" stroke="#2b2a8c" stroke-width="0.6"/>
<line x1="274.85" y1="239.46" x2="278.05" y2="239.46" stroke="#2b2a8c" stroke-width="0.6"/>
<line x1="274.85" y1="218.20" x2="278.05" y2="218.20" stroke="#2b2a8c" stroke-width="0.6"/>
<circle cx="276.45" cy="228.83" r="2.1" fill="#2b2a8c"/>
<line x1="298.53" y1="257.18" x2="298.53" y2="246.55" stroke="#2b2a8c" stroke-width="0.6"/>
<line x1="296.93" y1="257.18" x2="300.13" y2="257.18" stroke="#2b2a8c" stroke-width="0.6"/>
<line x1="296.93" y1="246.55" x2="300.13" y2="246.55" stroke="#2b2a8c" stroke-width="0.6"/>
<circle cx="298.53" cy="251.87" r="2.1" fill="#2b2a8c"/>
<line x1="320.62" y1="260.73" x2="320.62" y2="251.87" stroke="#2b2a8c" stroke-width="0.6"/>
<line x1="319.02" y1="260.73" x2="322.22" y2="260.73" stroke="#2b2a8c" stroke-width="0.6"/>
<line x1="319.02" y1="251.87" x2="322.22" y2="251.87" stroke="#2b2a8c" stroke-width="0.6"/>
<circle cx="320.62" cy="256.30" r="2.1" fill="#2b2a8c"/>
<circle cx="342.70" cy="263.38" r="2.1" fill="#2b2a8c"/>
<line x1="254.60" y1="300.40" x2="262.60" y2="300.40" stroke="#3d3fa0" stroke-width="0.7"/>
<circle cx="258.60" cy="300.40" r="1.6" fill="#2b2a8c"/>
<line x1="254.60" y1="312.60" x2="262.60" y2="312.60" stroke="#ee3c4c" stroke-width="0.7"/>
<rect x="257.10" y="311.10" width="3.00" height="3.00" fill="#e8203a" stroke="none" stroke-width="1"/>
<text x="268.60" y="302.90" font-size="7.0" font-weight="normal" text-anchor="start" fill="#222" stroke="#222" stroke-width="0.25">H460</text>
<text x="268.60" y="315.10" font-size="7.0" font-weight="normal" text-anchor="start" fill="#222" stroke="#222" stroke-width="0.25">H460 DNA-PK KO</text>
<polyline points="328.10,297.00 332.60,297.00 332.60,314.10 328.10,314.10" fill="none" stroke="#1a1a1a" stroke-width="1.2"/>
<text x="335.60" y="307.80" font-size="7.0" font-weight="normal" text-anchor="start" fill="#111" stroke="#111" stroke-width="0.2"><tspan font-style="italic">P</tspan> = 0.03</text>
<rect x="58.70" y="499.41" width="18.40" height="6.99" fill="#777777" stroke="#111" stroke-width="2.0"/>
<line x1="67.90" y1="502.72" x2="67.90" y2="496.10" stroke="#111" stroke-width="1.0"/>
<line x1="64.30" y1="502.72" x2="71.50" y2="502.72" stroke="#111" stroke-width="1.0"/>
<line x1="64.30" y1="496.10" x2="71.50" y2="496.10" stroke="#111" stroke-width="1.0"/>
<circle cx="63.60" cy="494.99" r="2.2" fill="#111"/>
<circle cx="72.20" cy="498.67" r="2.2" fill="#111"/>
<circle cx="65.40" cy="502.87" r="2.2" fill="#111"/>
<rect x="88.10" y="460.03" width="18.40" height="46.37" fill="#c6c8ca" stroke="#111" stroke-width="2.0"/>
<line x1="97.30" y1="464.45" x2="97.30" y2="455.62" stroke="#111" stroke-width="1.0"/>
<line x1="93.70" y1="464.45" x2="100.90" y2="464.45" stroke="#111" stroke-width="1.0"/>
<line x1="93.70" y1="455.62" x2="100.90" y2="455.62" stroke="#111" stroke-width="1.0"/>
<circle cx="91.00" cy="458.56" r="2.2" fill="#111"/>
<circle cx="97.30" cy="455.25" r="2.2" fill="#111"/>
<circle cx="105.30" cy="455.25" r="2.2" fill="#111"/>
<circle cx="90.30" cy="462.98" r="2.2" fill="#111"/>
<circle cx="97.80" cy="463.71" r="2.2" fill="#111"/>
<circle cx="105.30" cy="460.40" r="2.2" fill="#111"/>
<rect x="117.70" y="400.78" width="18.40" height="105.62" fill="#b3b5b7" stroke="#111" stroke-width="2.0"/>
<line x1="126.90" y1="413.66" x2="126.90" y2="387.90" stroke="#111" stroke-width="1.0"/>
<line x1="123.30" y1="413.66" x2="130.50" y2="413.66" stroke="#111" stroke-width="1.0"/>
<line x1="123.30" y1="387.90" x2="130.50" y2="387.90" stroke="#111" stroke-width="1.0"/>
<circle cx="122.30" cy="389.01" r="2.2" fill="#111"/>
<circle cx="130.90" cy="389.01" r="2.2" fill="#111"/>
<circle cx="131.50" cy="396.74" r="2.2" fill="#111"/>
<circle cx="122.30" cy="400.78" r="2.2" fill="#111"/>
<circle cx="128.60" cy="408.51" r="2.2" fill="#111"/>
<circle cx="126.60" cy="421.39" r="2.2" fill="#111"/>
<line x1="48.50" y1="358.40" x2="48.50" y2="507.20" stroke="#111" stroke-width="1.6"/>
<line x1="47.70" y1="506.40" x2="143.50" y2="506.40" stroke="#111" stroke-width="1.6"/>
<line x1="42.30" y1="506.40" x2="48.50" y2="506.40" stroke="#111" stroke-width="1.6"/>
<text x="40.20" y="510.20" font-size="10.9" font-weight="bold" text-anchor="end" fill="#111">0.0</text>
<line x1="42.30" y1="469.60" x2="48.50" y2="469.60" stroke="#111" stroke-width="1.6"/>
<text x="40.20" y="473.40" font-size="10.9" font-weight="bold" text-anchor="end" fill="#111">0.1</text>
<line x1="42.30" y1="432.80" x2="48.50" y2="432.80" stroke="#111" stroke-width="1.6"/>
<text x="40.20" y="436.60" font-size="10.9" font-weight="bold" text-anchor="end" fill="#111">0.2</text>
<line x1="42.30" y1="396.00" x2="48.50" y2="396.00" stroke="#111" stroke-width="1.6"/>
<text x="40.20" y="399.80" font-size="10.9" font-weight="bold" text-anchor="end" fill="#111">0.3</text>
<line x1="42.30" y1="359.20" x2="48.50" y2="359.20" stroke="#111" stroke-width="1.6"/>
<text x="40.20" y="363.00" font-size="10.9" font-weight="bold" text-anchor="end" fill="#111">0.4</text>
<line x1="67.90" y1="506.40" x2="67.90" y2="512.00" stroke="#111" stroke-width="1.6"/>
<line x1="97.30" y1="506.40" x2="97.30" y2="512.00" stroke="#111" stroke-width="1.6"/>
<line x1="126.90" y1="506.40" x2="126.90" y2="512.00" stroke="#111" stroke-width="1.6"/>
<text font-size="12.35" font-weight="bold" text-anchor="middle" fill="#111" transform="translate(17.70 431.00) rotate(-90)">MMEJ reporter positivity (%)</text>
<text font-size="10.6" font-weight="bold" text-anchor="end" fill="#111" transform="translate(72.50 521.50) rotate(-45)">Uninduced</text>
<text font-size="10.6" font-weight="bold" text-anchor="end" fill="#111" transform="translate(101.50 521.00) rotate(-45)">Control</text>
<text font-size="10.6" font-weight="bold" text-anchor="end" fill="#111" transform="translate(130.30 519.80) rotate(-45)">Peposertib (5 µmol/L)</text>
<polyline points="97.3,447 97.3,370.3 126.9,370.3 126.9,379.5" fill="none" stroke="#111" stroke-width="1.5"/>
<text x="112.30" y="371.50" font-size="22" font-weight="bold" text-anchor="middle" fill="#111" stroke="#111" stroke-width="0.45">****</text>
<rect x="414.00" y="438.80" width="15.20" height="52.00" fill="#5c60b0" stroke="#33358f" stroke-width="1.8"/>
<circle cx="416.90" cy="438.80" r="2.0" fill="#33358f"/>
<circle cx="421.60" cy="438.80" r="2.0" fill="#33358f"/>
<circle cx="426.50" cy="438.80" r="2.0" fill="#33358f"/>
<rect x="440.60" y="416.96" width="15.20" height="73.84" fill="#f27e7e" stroke="#e8303a" stroke-width="1.8"/>
<line x1="448.20" y1="433.08" x2="448.20" y2="400.84" stroke="#e8303a" stroke-width="1.0"/>
<line x1="444.80" y1="433.08" x2="451.60" y2="433.08" stroke="#e8303a" stroke-width="1.0"/>
<line x1="444.80" y1="400.84" x2="451.60" y2="400.84" stroke="#e8303a" stroke-width="1.0"/>
<circle cx="448.20" cy="399.28" r="2.0" fill="#e8303a"/>
<circle cx="448.20" cy="423.72" r="2.0" fill="#e8303a"/>
<circle cx="448.20" cy="427.88" r="2.0" fill="#e8303a"/>
<rect x="466.10" y="398.24" width="15.20" height="92.56" fill="#90d19b" stroke="#38aa56" stroke-width="1.8"/>
<line x1="473.70" y1="407.86" x2="473.70" y2="388.62" stroke="#38aa56" stroke-width="1.0"/>
<line x1="470.30" y1="407.86" x2="477.10" y2="407.86" stroke="#38aa56" stroke-width="1.0"/>
<line x1="470.30" y1="388.62" x2="477.10" y2="388.62" stroke="#38aa56" stroke-width="1.0"/>
<circle cx="473.70" cy="388.36" r="2.0" fill="#38aa56"/>
<circle cx="473.70" cy="399.28" r="2.0" fill="#38aa56"/>
<circle cx="473.70" cy="406.56" r="2.0" fill="#38aa56"/>
<line x1="404.00" y1="360.00" x2="404.00" y2="491.60" stroke="#111" stroke-width="1.6"/>
<line x1="403.20" y1="490.80" x2="491.50" y2="490.80" stroke="#111" stroke-width="1.6"/>
<line x1="399.00" y1="490.80" x2="404.00" y2="490.80" stroke="#111" stroke-width="1.6"/>
<text x="397.40" y="494.50" font-size="10.4" font-weight="bold" text-anchor="end" fill="#111">0.0</text>
<line x1="399.00" y1="464.80" x2="404.00" y2="464.80" stroke="#111" stroke-width="1.6"/>
<text x="397.40" y="468.50" font-size="10.4" font-weight="bold" text-anchor="end" fill="#111">0.5</text>
<line x1="399.00" y1="438.80" x2="404.00" y2="438.80" stroke="#111" stroke-width="1.6"/>
<text x="397.40" y="442.50" font-size="10.4" font-weight="bold" text-anchor="end" fill="#111">1.0</text>
<line x1="399.00" y1="412.80" x2="404.00" y2="412.80" stroke="#111" stroke-width="1.6"/>
<text x="397.40" y="416.50" font-size="10.4" font-weight="bold" text-anchor="end" fill="#111">1.5</text>
<line x1="399.00" y1="386.80" x2="404.00" y2="386.80" stroke="#111" stroke-width="1.6"/>
<text x="397.40" y="390.50" font-size="10.4" font-weight="bold" text-anchor="end" fill="#111">2.0</text>
<line x1="399.00" y1="360.80" x2="404.00" y2="360.80" stroke="#111" stroke-width="1.6"/>
<text x="397.40" y="364.50" font-size="10.4" font-weight="bold" text-anchor="end" fill="#111">2.5</text>
<line x1="421.60" y1="490.80" x2="421.60" y2="495.40" stroke="#111" stroke-width="1.6"/>
<line x1="448.20" y1="490.80" x2="448.20" y2="495.40" stroke="#111" stroke-width="1.6"/>
<line x1="473.70" y1="490.80" x2="473.70" y2="495.40" stroke="#111" stroke-width="1.6"/>
<text font-size="10.6" font-weight="bold" text-anchor="middle" fill="#111" transform="translate(374.00 425.70) rotate(-90)">Fold change</text>
<text x="375.30" y="343.90" font-size="12.45" font-weight="bold" text-anchor="start" fill="#111"><tspan font-style="italic">POLQ</tspan> mRNA Expression</text>
<text font-size="10.4" font-weight="bold" text-anchor="end" fill="#111" transform="translate(425.50 504.50) rotate(-45)">Control</text>
<text font-size="10.4" font-weight="bold" text-anchor="end" fill="#111" transform="translate(452.50 504.50) rotate(-45)">5 µmol/L</text>
<text font-size="10.4" font-weight="bold" text-anchor="end" fill="#111" transform="translate(479.00 504.50) rotate(-45)">10 µmol/L</text>
<line x1="429.30" y1="538.90" x2="471.00" y2="538.90" stroke="#111" stroke-width="1.6"/>
<text x="447.30" y="551.40" font-size="10.4" font-weight="bold" text-anchor="middle" fill="#111">Peposertib</text>
<polyline points="421.6,430.6 421.6,373.8 473.7,373.8 473.7,381.8" fill="none" stroke="#111" stroke-width="1.4"/>
<text x="447.60" y="376.50" font-size="20" font-weight="bold" text-anchor="middle" fill="#111" stroke="#111" stroke-width="0.4">**</text>
<defs><filter id="b1" x="-50%" y="-50%" width="200%" height="200%"><feGaussianBlur stdDeviation="1.6"/></filter><filter id="b2" x="-50%" y="-50%" width="200%" height="200%"><feGaussianBlur stdDeviation="0.9"/></filter><filter id="b4" x="-50%" y="-50%" width="200%" height="200%"><feGaussianBlur stdDeviation="2.1"/></filter><filter id="b3" x="-50%" y="-50%" width="200%" height="200%"><feGaussianBlur stdDeviation="1.2"/></filter><linearGradient id="gH1" x1="0" y1="0" x2="0" y2="1"><stop offset="0" stop-color="#c0c6d5"/><stop offset="0.45" stop-color="#a7aec4"/><stop offset="1" stop-color="#b4bbcc"/></linearGradient><linearGradient id="gH2" x1="0" y1="0" x2="0" y2="1"><stop offset="0" stop-color="#e4e6ec"/><stop offset="0.5" stop-color="#d4d7df"/><stop offset="1" stop-color="#e2e4ea"/></linearGradient></defs>
<text x="162.30" y="377.60" font-size="12.1" font-weight="bold" text-anchor="start" fill="#111">Peposertib:</text>
<text font-size="10.4" font-weight="bold" text-anchor="start" fill="#111" transform="translate(240.80 377.60) rotate(-90)">0</text>
<text font-size="10" font-weight="bold" text-anchor="start" fill="#111" transform="translate(268.10 377.30) rotate(-90)">5 µmol/L</text>
<text font-size="10" font-weight="bold" text-anchor="start" fill="#111" transform="translate(292.30 377.30) rotate(-90)">10 µmol/L</text>
<clipPath id="cH1"><rect x="226.4" y="383.1" width="75.0" height="18.5"/></clipPath>
<rect x="226.40" y="383.10" width="75.00" height="18.50" fill="url(#gH1)" stroke="none" stroke-width="1"/>
<g clip-path="url(#cH1)">
<ellipse cx="264" cy="392.5" rx="40" ry="4.5" fill="#8c94b0" opacity="0.55" filter="url(#b1)" transform="rotate(0 264 392.5)"/>
<ellipse cx="237.5" cy="392.6" rx="6.5" ry="3.3" fill="#4a5274" opacity="0.8" filter="url(#b4)" transform="rotate(-3 237.5 392.6)"/>
<ellipse cx="264.3" cy="391.9" rx="8" ry="3.6" fill="#222b50" opacity="0.95" filter="url(#b4)" transform="rotate(-3 264.3 391.9)"/>
<ellipse cx="290.2" cy="391.5" rx="9" ry="4.0" fill="#0d1634" opacity="1" filter="url(#b4)" transform="rotate(-3 290.2 391.5)"/>
<ellipse cx="290.2" cy="391.3" rx="6" ry="2.0" fill="#060c24" opacity="1" filter="url(#b1)" transform="rotate(-3 290.2 391.3)"/>
</g>
<rect x="226.40" y="383.10" width="75.00" height="18.50" fill="none" stroke="#262626" stroke-width="1.3"/>
<clipPath id="cH2"><rect x="226.4" y="404.6" width="75.0" height="20.3"/></clipPath>
<rect x="226.40" y="404.60" width="75.00" height="20.30" fill="url(#gH2)" stroke="none" stroke-width="1"/>
<g clip-path="url(#cH2)">
<ellipse cx="238.5" cy="414.9" rx="10" ry="2.9" fill="#050505" opacity="1" filter="url(#b2)" transform="rotate(-1 238.5 414.9)"/>
<ellipse cx="264.5" cy="414.2" rx="9.0" ry="2.8" fill="#050505" opacity="1" filter="url(#b2)" transform="rotate(-4 264.5 414.2)"/>
<ellipse cx="290" cy="413.4" rx="9.8" ry="2.7" fill="#050505" opacity="1" filter="url(#b2)" transform="rotate(-3 290 413.4)"/>
</g>
<rect x="226.40" y="404.60" width="75.00" height="20.30" fill="none" stroke="#262626" stroke-width="1.3"/>
<text x="307.20" y="396.60" font-size="11.8" font-weight="bold" text-anchor="start" fill="#111">POL<tspan font-weight="normal">Θ</tspan></text>
<text x="307.20" y="418.70" font-size="11.8" font-weight="bold" text-anchor="start" fill="#111">Tubulin</text>
<text font-size="10.4" font-weight="normal" text-anchor="middle" fill="#1a1a1a" stroke="#1a1a1a" stroke-width="0.12" transform="translate(239.00 437.60) scale(0.94 1)">0.76</text>
<text font-size="10.4" font-weight="normal" text-anchor="middle" fill="#1a1a1a" stroke="#1a1a1a" stroke-width="0.12" transform="translate(265.40 437.60) scale(0.94 1)">1.00</text>
<text font-size="10.4" font-weight="normal" text-anchor="middle" fill="#1a1a1a" stroke="#1a1a1a" stroke-width="0.12" transform="translate(290.90 437.60) scale(0.94 1)">1.20</text>
<text font-size="8.8" font-weight="bold" text-anchor="start" fill="#111" transform="translate(256.50 501.20) rotate(-90)">WT</text>
<text font-size="9.1" font-weight="bold" text-anchor="start" fill="#111" transform="translate(279.80 501.20) rotate(-90)">DNA-PK KO</text>
<clipPath id="cJ1"><rect x="242" y="505.2" width="44.8" height="24.5"/></clipPath>
<rect x="242.00" y="505.20" width="44.80" height="24.50" fill="#dcdee5" stroke="none" stroke-width="1"/>
<g clip-path="url(#cJ1)">
<ellipse cx="254" cy="514" rx="9.5" ry="7" fill="#555" opacity="0.55" filter="url(#b1)" transform="rotate(0 254 514)"/>
<ellipse cx="251.7" cy="516.5" rx="7.6" ry="10" fill="#000" opacity="1" filter="url(#b3)" transform="rotate(10 251.7 516.5)"/>
<ellipse cx="250.3" cy="523" rx="6.3" ry="6" fill="#000" opacity="1" filter="url(#b3)" transform="rotate(0 250.3 523)"/>
<ellipse cx="252.3" cy="511.5" rx="8" ry="5" fill="#000" opacity="1" filter="url(#b3)" transform="rotate(0 252.3 511.5)"/>
</g>
<rect x="242.00" y="505.20" width="44.80" height="24.50" fill="none" stroke="#262626" stroke-width="1.3"/>
<clipPath id="cJ2"><rect x="242" y="532.5" width="44.8" height="19.5"/></clipPath>
<rect x="242.00" y="532.50" width="44.80" height="19.50" fill="#c6c9d4" stroke="none" stroke-width="1"/>
<g clip-path="url(#cJ2)">
<ellipse cx="253.3" cy="542.2" rx="8.2" ry="3.3" fill="#050505" opacity="1" filter="url(#b2)" transform="rotate(0 253.3 542.2)"/>
<ellipse cx="275.5" cy="542.2" rx="9.6" ry="4.1" fill="#050505" opacity="1" filter="url(#b2)" transform="rotate(0 275.5 542.2)"/>
</g>
<rect x="242.00" y="532.50" width="44.80" height="19.50" fill="none" stroke="#262626" stroke-width="1.3"/>
<clipPath id="cJ3"><rect x="242" y="555.2" width="44.8" height="19"/></clipPath>
<rect x="242.00" y="555.20" width="44.80" height="19.00" fill="#d0d3dc" stroke="none" stroke-width="1"/>
<g clip-path="url(#cJ3)">
<ellipse cx="264" cy="564.8" rx="24" ry="1.8" fill="#444" opacity="0.5" filter="url(#b2)" transform="rotate(0 264 564.8)"/>
<ellipse cx="252.7" cy="564.6" rx="9.6" ry="3.2" fill="#050505" opacity="1" filter="url(#b2)" transform="rotate(0 252.7 564.6)"/>
<ellipse cx="276" cy="564.6" rx="9.4" ry="3.2" fill="#050505" opacity="1" filter="url(#b2)" transform="rotate(0 276 564.6)"/>
</g>
<rect x="242.00" y="555.20" width="44.80" height="19.00" fill="none" stroke="#262626" stroke-width="1.3"/>
<text x="292.00" y="521.90" font-size="11.8" font-weight="bold" text-anchor="start" fill="#111">DNA-PK</text>
<text x="292.00" y="546.10" font-size="11.8" font-weight="bold" text-anchor="start" fill="#111">POL<tspan font-weight="normal">Θ</tspan></text>
<text x="292.00" y="569.10" font-size="11.8" font-weight="bold" text-anchor="start" fill="#111">Tubulin</text>
<text font-size="10.4" font-weight="normal" text-anchor="middle" fill="#1a1a1a" stroke="#1a1a1a" stroke-width="0.12" transform="translate(251.20 587.40) scale(0.94 1)">0.65</text>
<text font-size="10.4" font-weight="normal" text-anchor="middle" fill="#1a1a1a" stroke="#1a1a1a" stroke-width="0.12" transform="translate(277.00 587.40) scale(0.94 1)">1.15</text>
<defs><filter id="sb" x="-60%" y="-60%" width="220%" height="220%"><feGaussianBlur stdDeviation="3.2"/></filter><filter id="sb2" x="-60%" y="-60%" width="220%" height="220%"><feGaussianBlur stdDeviation="2"/></filter><linearGradient id="cbar" x1="0" y1="0" x2="0" y2="1"><stop offset="0" stop-color="#2d2f8f"/><stop offset="0.126" stop-color="#2c46aa"/><stop offset="0.228" stop-color="#2e7fd0"/><stop offset="0.30" stop-color="#33b0e2"/><stop offset="0.39" stop-color="#5fc8b8"/><stop offset="0.51" stop-color="#84d088"/><stop offset="0.585" stop-color="#c0e050"/><stop offset="0.634" stop-color="#f2ee22"/><stop offset="0.715" stop-color="#f8a61e"/><stop offset="0.817" stop-color="#f0531f"/><stop offset="0.92" stop-color="#e0201f"/><stop offset="1" stop-color="#a81416"/></linearGradient></defs>
<line x1="385.60" y1="83.50" x2="436.00" y2="50.60" stroke="#e4e4ec" stroke-width="0.5"/>
<line x1="436.00" y1="50.60" x2="486.40" y2="83.50" stroke="#e4e4ec" stroke-width="0.5"/>
<line x1="385.60" y1="61.50" x2="436.00" y2="28.60" stroke="#e4e4ec" stroke-width="0.5"/>
<line x1="436.00" y1="28.60" x2="486.40" y2="61.50" stroke="#e4e4ec" stroke-width="0.5"/>
<line x1="385.60" y1="39.50" x2="436.00" y2="6.60" stroke="#e4e4ec" stroke-width="0.5"/>
<line x1="436.00" y1="6.60" x2="486.40" y2="39.50" stroke="#e4e4ec" stroke-width="0.5"/>
<line x1="385.60" y1="83.50" x2="385.60" y2="39.50" stroke="#e4e4ec" stroke-width="0.5"/>
<line x1="392.80" y1="78.80" x2="392.80" y2="34.80" stroke="#e4e4ec" stroke-width="0.5"/>
<line x1="400.00" y1="74.10" x2="400.00" y2="30.10" stroke="#e4e4ec" stroke-width="0.5"/>
<line x1="407.20" y1="69.40" x2="407.20" y2="25.40" stroke="#e4e4ec" stroke-width="0.5"/>
<line x1="414.40" y1="64.70" x2="414.40" y2="20.70" stroke="#e4e4ec" stroke-width="0.5"/>
<line x1="421.60" y1="60.00" x2="421.60" y2="16.00" stroke="#e4e4ec" stroke-width="0.5"/>
<line x1="428.80" y1="55.30" x2="428.80" y2="11.30" stroke="#e4e4ec" stroke-width="0.5"/>
<line x1="436.00" y1="50.60" x2="436.00" y2="6.60" stroke="#e4e4ec" stroke-width="0.5"/>
<line x1="436.00" y1="50.60" x2="436.00" y2="6.60" stroke="#e4e4ec" stroke-width="0.5"/>
<line x1="443.20" y1="55.30" x2="443.20" y2="11.30" stroke="#e4e4ec" stroke-width="0.5"/>
<line x1="450.40" y1="60.00" x2="450.40" y2="16.00" stroke="#e4e4ec" stroke-width="0.5"/>
<line x1="457.60" y1="64.70" x2="457.60" y2="20.70" stroke="#e4e4ec" stroke-width="0.5"/>
<line x1="464.80" y1="69.40" x2="464.80" y2="25.40" stroke="#e4e4ec" stroke-width="0.5"/>
<line x1="472.00" y1="74.10" x2="472.00" y2="30.10" stroke="#e4e4ec" stroke-width="0.5"/>
<line x1="479.20" y1="78.80" x2="479.20" y2="34.80" stroke="#e4e4ec" stroke-width="0.5"/>
<line x1="486.40" y1="83.50" x2="486.40" y2="39.50" stroke="#e4e4ec" stroke-width="0.5"/>
<line x1="385.60" y1="83.50" x2="385.60" y2="39.50" stroke="#555" stroke-width="0.6"/>
<line x1="385.60" y1="83.50" x2="436.00" y2="116.40" stroke="#555" stroke-width="0.6"/>
<line x1="436.00" y1="116.40" x2="486.40" y2="83.50" stroke="#555" stroke-width="0.6"/>
<clipPath id="cpE"><polygon points="385.6,83.1 392.8,67.7 400.0,57.1 407.2,47.0 414.4,35.8 421.6,23.8 428.8,17.4 436.0,8.3 443.2,15.0 450.4,21.6 457.6,34.5 464.8,45.3 472.0,50.8 479.2,64.6 486.4,75.7 479.2,81.2 472.0,86.2 464.8,92.3 457.6,98.2 450.4,103.9 443.2,109.7 436.0,116.3 428.8,111.6 421.6,106.8 414.4,102.1 407.2,97.3 400.0,92.5 392.8,87.8"/></clipPath>
<g clip-path="url(#cpE)">
<polygon points="385.6,83.1 392.8,67.7 400.0,57.1 407.2,47.0 414.4,35.8 421.6,23.8 428.8,17.4 436.0,8.3 443.2,15.0 450.4,21.6 457.6,34.5 464.8,45.3 472.0,50.8 479.2,64.6 486.4,75.7 479.2,81.2 472.0,86.2 464.8,92.3 457.6,98.2 450.4,103.9 443.2,109.7 436.0,116.3 428.8,111.6 421.6,106.8 414.4,102.1 407.2,97.3 400.0,92.5 392.8,87.8" fill="#7fd09a"/>
<ellipse cx="436" cy="22" rx="16" ry="13" fill="#93d89a" opacity="0.7" filter="url(#sb)" transform="rotate(0 436 22)"/>
<ellipse cx="470" cy="88" rx="14" ry="8" fill="#62c8ae" opacity="0.8" filter="url(#sb)" transform="rotate(-33 470 88)"/>
<ellipse cx="422" cy="73" rx="35" ry="20" fill="#5cc8b6" opacity="0.9" filter="url(#sb)" transform="rotate(-47 422 73)"/>
<ellipse cx="426" cy="70" rx="30" ry="16.5" fill="#3cb8e8" opacity="1" filter="url(#sb)" transform="rotate(-47 426 70)"/>
<ellipse cx="426.5" cy="70" rx="24.5" ry="12.5" fill="#2e66c4" opacity="1" filter="url(#sb)" transform="rotate(-47 426.5 70)"/>
<ellipse cx="424" cy="73.5" rx="16.5" ry="9.5" fill="#2b3a9c" opacity="1" filter="url(#sb2)" transform="rotate(-47 424 73.5)"/>
<ellipse cx="422.5" cy="76" rx="11" ry="6.5" fill="#2a3192" opacity="1" filter="url(#sb2)" transform="rotate(-47 422.5 76)"/>
<ellipse cx="460" cy="80" rx="19" ry="12" fill="#44bfe2" opacity="0.95" filter="url(#sb)" transform="rotate(-35 460 80)"/>
<ellipse cx="444" cy="94" rx="11" ry="5" fill="#38aee6" opacity="0.95" filter="url(#sb2)" transform="rotate(-30 444 94)"/>
<ellipse cx="463" cy="68.5" rx="6.5" ry="4.5" fill="#2f78d0" opacity="1" filter="url(#sb2)" transform="rotate(-10 463 68.5)"/>
<ellipse cx="467.5" cy="85" rx="6.5" ry="3.5" fill="#2f78d0" opacity="0.95" filter="url(#sb2)" transform="rotate(-30 467.5 85)"/>
<ellipse cx="469" cy="51" rx="9" ry="5.5" fill="#b8e060" opacity="0.9" filter="url(#sb2)" transform="rotate(50 469 51)"/>
<ellipse cx="468" cy="49.5" rx="4.6" ry="3.8" fill="#f0ee28" opacity="1" filter="url(#sb2)" transform="rotate(35 468 49.5)"/>
<polyline points="385.6,83.1 392.8,67.7 400.0,57.1 407.2,47.0 414.4,35.8 421.6,23.8 428.8,17.4 436.0,8.3" fill="none" stroke="#fff" stroke-opacity="0.45" stroke-width="0.45"/>
<polyline points="392.8,87.8 400.0,72.9 407.2,62.5 414.4,52.7 421.6,41.8 428.8,30.1 436.0,23.8 443.2,15.0" fill="none" stroke="#fff" stroke-opacity="0.45" stroke-width="0.45"/>
<polyline points="400.0,92.5 407.2,78.1 414.4,68.0 421.6,58.4 428.8,47.9 436.0,36.5 443.2,30.2 450.4,21.6" fill="none" stroke="#fff" stroke-opacity="0.45" stroke-width="0.45"/>
<polyline points="407.2,97.3 414.4,85.0 421.6,76.0 428.8,67.5 436.0,58.2 443.2,48.2 450.4,42.3 457.6,34.5" fill="none" stroke="#fff" stroke-opacity="0.45" stroke-width="0.45"/>
<polyline points="414.4,102.1 421.6,91.3 428.8,83.2 436.0,75.4 443.2,67.0 450.4,58.1 457.6,52.4 464.8,45.3" fill="none" stroke="#fff" stroke-opacity="0.45" stroke-width="0.45"/>
<polyline points="421.6,106.8 428.8,96.2 436.0,88.2 443.2,80.5 450.4,72.3 457.6,63.5 464.8,57.9 472.0,50.8" fill="none" stroke="#fff" stroke-opacity="0.45" stroke-width="0.45"/>
<polyline points="428.8,111.6 436.0,103.3 443.2,96.6 450.4,90.0 457.6,83.2 464.8,76.0 472.0,70.7 479.2,64.6" fill="none" stroke="#fff" stroke-opacity="0.45" stroke-width="0.45"/>
<polyline points="436.0,116.3 443.2,109.7 450.4,103.9 457.6,98.2 464.8,92.3 472.0,86.2 479.2,81.2 486.4,75.7" fill="none" stroke="#fff" stroke-opacity="0.45" stroke-width="0.45"/>
<polyline points="385.6,83.1 392.8,87.8 400.0,92.5 407.2,97.3 414.4,102.1 421.6,106.8 428.8,111.6 436.0,116.3" fill="none" stroke="#fff" stroke-opacity="0.45" stroke-width="0.45"/>
<polyline points="392.8,67.7 400.0,72.9 407.2,78.1 414.4,85.0 421.6,91.3 428.8,96.2 436.0,103.3 443.2,109.7" fill="none" stroke="#fff" stroke-opacity="0.45" stroke-width="0.45"/>
<polyline points="400.0,57.1 407.2,62.5 414.4,68.0 421.6,76.0 428.8,83.2 436.0,88.2 443.2,96.6 450.4,103.9" fill="none" stroke="#fff" stroke-opacity="0.45" stroke-width="0.45"/>
<polyline points="407.2,47.0 414.4,52.7 421.6,58.4 428.8,67.5 436.0,75.4 443.2,80.5 450.4,90.0 457.6,98.2" fill="none" stroke="#fff" stroke-opacity="0.45" stroke-width="0.45"/>
<polyline points="414.4,35.8 421.6,41.8 428.8,47.9 436.0,58.2 443.2,67.0 450.4,72.3 457.6,83.2 464.8,92.3" fill="none" stroke="#fff" stroke-opacity="0.45" stroke-width="0.45"/>
<polyline points="421.6,23.8 428.8,30.1 436.0,36.5 443.2,48.2 450.4,58.1 457.6,63.5 464.8,76.0 472.0,86.2" fill="none" stroke="#fff" stroke-opacity="0.45" stroke-width="0.45"/>
<polyline points="428.8,17.4 436.0,23.8 443.2,30.2 450.4,42.3 457.6,52.4 464.8,57.9 472.0,70.7 479.2,81.2" fill="none" stroke="#fff" stroke-opacity="0.45" stroke-width="0.45"/>
<polyline points="436.0,8.3 443.2,15.0 450.4,21.6 457.6,34.5 464.8,45.3 472.0,50.8 479.2,64.6 486.4,75.7" fill="none" stroke="#fff" stroke-opacity="0.45" stroke-width="0.45"/>
</g>
<circle cx="385.6" cy="83.1" r="1.05" fill="#0a0a0a"/>
<circle cx="392.8" cy="67.7" r="1.05" fill="#0a0a0a"/>
<circle cx="400.0" cy="57.1" r="1.05" fill="#0a0a0a"/>
<circle cx="407.2" cy="47.0" r="1.05" fill="#0a0a0a"/>
<circle cx="414.4" cy="35.8" r="1.05" fill="#0a0a0a"/>
<circle cx="421.6" cy="23.8" r="1.05" fill="#0a0a0a"/>
<circle cx="428.8" cy="17.4" r="1.05" fill="#0a0a0a"/>
<circle cx="436.0" cy="8.3" r="1.05" fill="#0a0a0a"/>
<circle cx="392.8" cy="87.8" r="1.05" fill="#0a0a0a"/>
<circle cx="400.0" cy="72.9" r="1.05" fill="#0a0a0a"/>
<circle cx="407.2" cy="62.5" r="1.05" fill="#0a0a0a"/>
<circle cx="414.4" cy="52.7" r="1.05" fill="#0a0a0a"/>
<circle cx="421.6" cy="41.8" r="1.05" fill="#0a0a0a"/>
<circle cx="428.8" cy="30.1" r="1.05" fill="#0a0a0a"/>
<circle cx="436.0" cy="23.8" r="1.05" fill="#0a0a0a"/>
<circle cx="443.2" cy="15.0" r="1.05" fill="#0a0a0a"/>
<circle cx="400.0" cy="92.5" r="1.05" fill="#0a0a0a"/>
<circle cx="407.2" cy="78.1" r="1.05" fill="#0a0a0a"/>
<circle cx="414.4" cy="68.0" r="1.05" fill="#0a0a0a"/>
<circle cx="421.6" cy="58.4" r="1.05" fill="#0a0a0a"/>
<circle cx="428.8" cy="47.9" r="1.05" fill="#0a0a0a"/>
<circle cx="436.0" cy="36.5" r="1.05" fill="#0a0a0a"/>
<circle cx="443.2" cy="30.2" r="1.05" fill="#0a0a0a"/>
<circle cx="450.4" cy="21.6" r="1.05" fill="#0a0a0a"/>
<circle cx="407.2" cy="97.3" r="1.05" fill="#0a0a0a"/>
<circle cx="414.4" cy="85.0" r="1.05" fill="#0a0a0a"/>
<circle cx="421.6" cy="76.0" r="1.05" fill="#0a0a0a"/>
<circle cx="428.8" cy="67.5" r="1.05" fill="#0a0a0a"/>
<circle cx="436.0" cy="58.2" r="1.05" fill="#0a0a0a"/>
<circle cx="443.2" cy="48.2" r="1.05" fill="#0a0a0a"/>
<circle cx="450.4" cy="42.3" r="1.05" fill="#0a0a0a"/>
<circle cx="457.6" cy="34.5" r="1.05" fill="#0a0a0a"/>
<circle cx="414.4" cy="102.1" r="1.05" fill="#0a0a0a"/>
<circle cx="421.6" cy="91.3" r="1.05" fill="#0a0a0a"/>
<circle cx="428.8" cy="83.2" r="1.05" fill="#0a0a0a"/>
<circle cx="436.0" cy="75.4" r="1.05" fill="#0a0a0a"/>
<circle cx="443.2" cy="67.0" r="1.05" fill="#0a0a0a"/>
<circle cx="450.4" cy="58.1" r="1.05" fill="#0a0a0a"/>
<circle cx="457.6" cy="52.4" r="1.05" fill="#0a0a0a"/>
<circle cx="464.8" cy="45.3" r="1.05" fill="#0a0a0a"/>
<circle cx="421.6" cy="106.8" r="1.05" fill="#0a0a0a"/>
<circle cx="428.8" cy="96.2" r="1.05" fill="#0a0a0a"/>
<circle cx="436.0" cy="88.2" r="1.05" fill="#0a0a0a"/>
<circle cx="443.2" cy="80.5" r="1.05" fill="#0a0a0a"/>
<circle cx="450.4" cy="72.3" r="1.05" fill="#0a0a0a"/>
<circle cx="457.6" cy="63.5" r="1.05" fill="#0a0a0a"/>
<circle cx="464.8" cy="57.9" r="1.05" fill="#0a0a0a"/>
<circle cx="472.0" cy="50.8" r="1.05" fill="#0a0a0a"/>
<circle cx="428.8" cy="111.6" r="1.05" fill="#0a0a0a"/>
<circle cx="436.0" cy="103.3" r="1.05" fill="#0a0a0a"/>
<circle cx="443.2" cy="96.6" r="1.05" fill="#0a0a0a"/>
<circle cx="450.4" cy="90.0" r="1.05" fill="#0a0a0a"/>
<circle cx="457.6" cy="83.2" r="1.05" fill="#0a0a0a"/>
<circle cx="464.8" cy="76.0" r="1.05" fill="#0a0a0a"/>
<circle cx="472.0" cy="70.7" r="1.05" fill="#0a0a0a"/>
<circle cx="479.2" cy="64.6" r="1.05" fill="#0a0a0a"/>
<circle cx="436.0" cy="116.3" r="1.05" fill="#0a0a0a"/>
<circle cx="443.2" cy="109.7" r="1.05" fill="#0a0a0a"/>
<circle cx="450.4" cy="103.9" r="1.05" fill="#0a0a0a"/>
<circle cx="457.6" cy="98.2" r="1.05" fill="#0a0a0a"/>
<circle cx="464.8" cy="92.3" r="1.05" fill="#0a0a0a"/>
<circle cx="472.0" cy="86.2" r="1.05" fill="#0a0a0a"/>
<circle cx="479.2" cy="81.2" r="1.05" fill="#0a0a0a"/>
<circle cx="486.4" cy="75.7" r="1.05" fill="#0a0a0a"/>
<text font-size="7.0" font-weight="normal" text-anchor="end" fill="#000" stroke="#000" stroke-width="0.35" transform="translate(382.00 41.60) scale(0.9 1)">100</text>
<text font-size="7.0" font-weight="normal" text-anchor="end" fill="#000" stroke="#000" stroke-width="0.35" transform="translate(382.00 64.10) scale(0.9 1)">50</text>
<text font-size="7.0" font-weight="normal" text-anchor="end" fill="#000" stroke="#000" stroke-width="0.35" transform="translate(382.00 85.50) scale(0.9 1)">0</text>
<text font-size="7.2" font-weight="normal" text-anchor="middle" fill="#000" stroke="#000" stroke-width="0.35" transform="translate(377.00 94.00) scale(0.9 1)">0</text>
<text font-size="7.2" font-weight="normal" text-anchor="middle" fill="#000" stroke="#000" stroke-width="0.35" transform="translate(384.00 97.70) scale(0.9 1)">25</text>
<text font-size="7.2" font-weight="normal" text-anchor="middle" fill="#000" stroke="#000" stroke-width="0.35" transform="translate(390.40 102.30) scale(0.9 1)">50</text>
<text font-size="7.2" font-weight="normal" text-anchor="middle" fill="#000" stroke="#000" stroke-width="0.35" transform="translate(397.30 106.70) scale(0.9 1)">100</text>
<text font-size="7.2" font-weight="normal" text-anchor="middle" fill="#000" stroke="#000" stroke-width="0.35" transform="translate(405.30 111.90) scale(0.9 1)">150</text>
<text font-size="7.2" font-weight="normal" text-anchor="middle" fill="#000" stroke="#000" stroke-width="0.35" transform="translate(413.50 116.70) scale(0.9 1)">200</text>
<text font-size="7.2" font-weight="normal" text-anchor="middle" fill="#000" stroke="#000" stroke-width="0.35" transform="translate(422.50 120.50) scale(0.9 1)">250</text>
<text font-size="7.2" font-weight="normal" text-anchor="middle" fill="#000" stroke="#000" stroke-width="0.35" transform="translate(428.60 125.50) scale(0.9 1)">300</text>
<text font-size="7.2" font-weight="normal" text-anchor="middle" fill="#000" stroke="#000" stroke-width="0.35" transform="translate(442.60 125.50) scale(0.9 1)">10</text>
<text font-size="7.2" font-weight="normal" text-anchor="middle" fill="#000" stroke="#000" stroke-width="0.35" transform="translate(447.50 121.50) scale(0.9 1)">5</text>
<text font-size="7.2" font-weight="normal" text-anchor="middle" fill="#000" stroke="#000" stroke-width="0.35" transform="translate(457.80 116.40) scale(0.9 1)">2.5</text>
<text font-size="7.2" font-weight="normal" text-anchor="middle" fill="#000" stroke="#000" stroke-width="0.35" transform="translate(467.50 112.00) scale(0.9 1)">1.25</text>
<text font-size="7.2" font-weight="normal" text-anchor="middle" fill="#000" stroke="#000" stroke-width="0.35" transform="translate(478.00 107.20) scale(0.9 1)">0.625</text>
<text font-size="7.2" font-weight="normal" text-anchor="middle" fill="#000" stroke="#000" stroke-width="0.35" transform="translate(486.30 102.80) scale(0.9 1)">0.3125</text>
<text font-size="7.2" font-weight="normal" text-anchor="middle" fill="#000" stroke="#000" stroke-width="0.35" transform="translate(494.30 98.20) scale(0.9 1)">0.1562</text>
<text font-size="7.2" font-weight="normal" text-anchor="middle" fill="#000" stroke="#000" stroke-width="0.35" transform="translate(491.50 92.00) scale(0.9 1)">0</text>
<text font-size="6.4" font-weight="normal" text-anchor="middle" fill="#222" stroke="#222" stroke-width="0.3" transform="translate(382.00 128.00) scale(0.95 1)">NVB (µmol/L)</text>
<text font-size="6.5" font-weight="normal" text-anchor="middle" fill="#222" stroke="#222" stroke-width="0.3" transform="translate(485.70 127.40) scale(0.95 1)">Peposertib (µmol/L)</text>
<text font-size="6.5" font-weight="normal" text-anchor="middle" fill="#222" stroke="#222" stroke-width="0.3" transform="translate(364.60 63.80) rotate(-90) scale(0.95 1)">% Control</text>
<rect x="500.10" y="8.30" width="9.60" height="107.40" fill="url(#cbar)" stroke="#999" stroke-width="0.4"/>
<text font-size="6.4" font-weight="bold" text-anchor="middle" fill="#222" transform="translate(517.30 33.80) rotate(-90)">Synergy</text>
<text font-size="6.4" font-weight="bold" text-anchor="middle" fill="#222" transform="translate(517.30 85.30) rotate(-90)">Antagonism</text>
<line x1="383.10" y1="247.00" x2="433.50" y2="215.01" stroke="#e4e4ec" stroke-width="0.5"/>
<line x1="433.50" y1="215.01" x2="483.90" y2="247.00" stroke="#e4e4ec" stroke-width="0.5"/>
<line x1="383.10" y1="224.70" x2="433.50" y2="192.71" stroke="#e4e4ec" stroke-width="0.5"/>
<line x1="433.50" y1="192.71" x2="483.90" y2="224.70" stroke="#e4e4ec" stroke-width="0.5"/>
<line x1="383.10" y1="202.40" x2="433.50" y2="170.41" stroke="#e4e4ec" stroke-width="0.5"/>
<line x1="433.50" y1="170.41" x2="483.90" y2="202.40" stroke="#e4e4ec" stroke-width="0.5"/>
<line x1="383.10" y1="247.00" x2="383.10" y2="202.40" stroke="#e4e4ec" stroke-width="0.5"/>
<line x1="390.30" y1="242.43" x2="390.30" y2="197.83" stroke="#e4e4ec" stroke-width="0.5"/>
<line x1="397.50" y1="237.86" x2="397.50" y2="193.26" stroke="#e4e4ec" stroke-width="0.5"/>
<line x1="404.70" y1="233.29" x2="404.70" y2="188.69" stroke="#e4e4ec" stroke-width="0.5"/>
<line x1="411.90" y1="228.72" x2="411.90" y2="184.12" stroke="#e4e4ec" stroke-width="0.5"/>
<line x1="419.10" y1="224.15" x2="419.10" y2="179.55" stroke="#e4e4ec" stroke-width="0.5"/>
<line x1="426.30" y1="219.58" x2="426.30" y2="174.98" stroke="#e4e4ec" stroke-width="0.5"/>
<line x1="433.50" y1="215.01" x2="433.50" y2="170.41" stroke="#e4e4ec" stroke-width="0.5"/>
<line x1="433.50" y1="215.01" x2="433.50" y2="170.41" stroke="#e4e4ec" stroke-width="0.5"/>
<line x1="440.70" y1="219.58" x2="440.70" y2="174.98" stroke="#e4e4ec" stroke-width="0.5"/>
<line x1="447.90" y1="224.15" x2="447.90" y2="179.55" stroke="#e4e4ec" stroke-width="0.5"/>
<line x1="455.10" y1="228.72" x2="455.10" y2="184.12" stroke="#e4e4ec" stroke-width="0.5"/>
<line x1="462.30" y1="233.29" x2="462.30" y2="188.69" stroke="#e4e4ec" stroke-width="0.5"/>
<line x1="469.50" y1="237.86" x2="469.50" y2="193.26" stroke="#e4e4ec" stroke-width="0.5"/>
<line x1="476.70" y1="242.43" x2="476.70" y2="197.83" stroke="#e4e4ec" stroke-width="0.5"/>
<line x1="483.90" y1="247.00" x2="483.90" y2="202.40" stroke="#e4e4ec" stroke-width="0.5"/>
<line x1="383.10" y1="247.00" x2="383.10" y2="202.40" stroke="#555" stroke-width="0.6"/>
<line x1="383.10" y1="247.00" x2="433.50" y2="278.99" stroke="#555" stroke-width="0.6"/>
<line x1="433.50" y1="278.99" x2="483.90" y2="247.00" stroke="#555" stroke-width="0.6"/>
<clipPath id="cpF"><polygon points="383.1,247.0 390.3,229.4 397.5,215.3 404.7,206.3 411.9,199.0 419.1,188.1 426.3,179.9 433.5,170.0 440.7,177.2 447.9,185.3 455.1,197.1 462.3,204.7 469.5,209.8 476.7,225.5 483.9,243.4 476.7,248.4 469.5,253.3 462.3,258.4 455.1,263.1 447.9,268.1 440.7,273.4 433.5,279.0 426.3,274.4 419.1,269.9 411.9,265.3 404.7,260.7 397.5,256.1 390.3,251.6"/></clipPath>
<g clip-path="url(#cpF)">
<polygon points="383.1,247.0 390.3,229.4 397.5,215.3 404.7,206.3 411.9,199.0 419.1,188.1 426.3,179.9 433.5,170.0 440.7,177.2 447.9,185.3 455.1,197.1 462.3,204.7 469.5,209.8 476.7,225.5 483.9,243.4 476.7,248.4 469.5,253.3 462.3,258.4 455.1,263.1 447.9,268.1 440.7,273.4 433.5,279.0 426.3,274.4 419.1,269.9 411.9,265.3 404.7,260.7 397.5,256.1 390.3,251.6" fill="#7fd09a"/>
<ellipse cx="433" cy="185" rx="16" ry="13" fill="#8fd69c" opacity="0.6" filter="url(#sb)" transform="rotate(0 433 185)"/>
<ellipse cx="404" cy="207" rx="8" ry="4.5" fill="#c6e262" opacity="0.8" filter="url(#sb2)" transform="rotate(-48 404 207)"/>
<ellipse cx="413" cy="236" rx="35" ry="20" fill="#5cc8b6" opacity="0.9" filter="url(#sb)" transform="rotate(-45 413 236)"/>
<ellipse cx="416.5" cy="232.5" rx="30" ry="16" fill="#3cb8e8" opacity="1" filter="url(#sb)" transform="rotate(-45 416.5 232.5)"/>
<ellipse cx="416" cy="233" rx="25" ry="12.5" fill="#2e66c4" opacity="1" filter="url(#sb)" transform="rotate(-45 416 233)"/>
<ellipse cx="415" cy="234.5" rx="21" ry="10.5" fill="#2b3a9c" opacity="1" filter="url(#sb2)" transform="rotate(-45 415 234.5)"/>
<ellipse cx="414.5" cy="235.5" rx="15" ry="7.5" fill="#2a3192" opacity="1" filter="url(#sb2)" transform="rotate(-45 414.5 235.5)"/>
<ellipse cx="446" cy="249.5" rx="20" ry="8" fill="#48c2e0" opacity="1" filter="url(#sb)" transform="rotate(-40 446 249.5)"/>
<ellipse cx="445.5" cy="250" rx="11" ry="3.6" fill="#36aee8" opacity="1" filter="url(#sb2)" transform="rotate(-40 445.5 250)"/>
<path d="M440.5,224 C446,208 458,202 466,208 C472,213 475,221 477,230" fill="#bfe062" stroke="#bfe062" stroke-width="11" stroke-linecap="round" opacity="0.9" filter="url(#sb)"/>
<path d="M441,222 C447,209 458,204 466,209 C470,212 472,217 473.5,222" fill="none" stroke="#f4f01e" stroke-width="5.6" stroke-linecap="round" filter="url(#sb2)"/>
<polyline points="383.1,247.0 390.3,229.4 397.5,215.3 404.7,206.3 411.9,199.0 419.1,188.1 426.3,179.9 433.5,170.0" fill="none" stroke="#fff" stroke-opacity="0.45" stroke-width="0.45"/>
<polyline points="390.3,251.6 397.5,234.7 404.7,221.2 411.9,212.4 419.1,205.3 426.3,194.8 433.5,186.9 440.7,177.2" fill="none" stroke="#fff" stroke-opacity="0.45" stroke-width="0.45"/>
<polyline points="397.5,256.1 404.7,240.3 411.9,227.6 419.1,219.1 426.3,212.3 433.5,202.2 440.7,194.6 447.9,185.3" fill="none" stroke="#fff" stroke-opacity="0.45" stroke-width="0.45"/>
<polyline points="404.7,260.7 411.9,247.0 419.1,235.7 426.3,228.0 433.5,221.5 440.7,212.5 447.9,205.4 455.1,197.1" fill="none" stroke="#fff" stroke-opacity="0.45" stroke-width="0.45"/>
<polyline points="411.9,265.3 419.1,252.4 426.3,241.9 433.5,234.4 440.7,228.2 447.9,219.6 455.1,212.7 462.3,204.7" fill="none" stroke="#fff" stroke-opacity="0.45" stroke-width="0.45"/>
<polyline points="419.1,269.9 426.3,257.1 433.5,246.7 440.7,239.3 447.9,233.0 455.1,224.5 462.3,217.7 469.5,209.8" fill="none" stroke="#fff" stroke-opacity="0.45" stroke-width="0.45"/>
<polyline points="426.3,274.4 433.5,264.9 440.7,256.8 447.9,250.5 455.1,245.0 462.3,238.0 469.5,232.1 476.7,225.5" fill="none" stroke="#fff" stroke-opacity="0.45" stroke-width="0.45"/>
<polyline points="433.5,279.0 440.7,273.4 447.9,268.1 455.1,263.1 462.3,258.4 469.5,253.3 476.7,248.4 483.9,243.4" fill="none" stroke="#fff" stroke-opacity="0.45" stroke-width="0.45"/>
<polyline points="383.1,247.0 390.3,251.6 397.5,256.1 404.7,260.7 411.9,265.3 419.1,269.9 426.3,274.4 433.5,279.0" fill="none" stroke="#fff" stroke-opacity="0.45" stroke-width="0.45"/>
<polyline points="390.3,229.4 397.5,234.7 404.7,240.3 411.9,247.0 419.1,252.4 426.3,257.1 433.5,264.9 440.7,273.4" fill="none" stroke="#fff" stroke-opacity="0.45" stroke-width="0.45"/>
<polyline points="397.5,215.3 404.7,221.2 411.9,227.6 419.1,235.7 426.3,241.9 433.5,246.7 440.7,256.8 447.9,268.1" fill="none" stroke="#fff" stroke-opacity="0.45" stroke-width="0.45"/>
<polyline points="404.7,206.3 411.9,212.4 419.1,219.1 426.3,228.0 433.5,234.4 440.7,239.3 447.9,250.5 455.1,263.1" fill="none" stroke="#fff" stroke-opacity="0.45" stroke-width="0.45"/>
<polyline points="411.9,199.0 419.1,205.3 426.3,212.3 433.5,221.5 440.7,228.2 447.9,233.0 455.1,245.0 462.3,258.4" fill="none" stroke="#fff" stroke-opacity="0.45" stroke-width="0.45"/>
<polyline points="419.1,188.1 426.3,194.8 433.5,202.2 440.7,212.5 447.9,219.6 455.1,224.5 462.3,238.0 469.5,253.3" fill="none" stroke="#fff" stroke-opacity="0.45" stroke-width="0.45"/>
<polyline points="426.3,179.9 433.5,186.9 440.7,194.6 447.9,205.4 455.1,212.7 462.3,217.7 469.5,232.1 476.7,248.4" fill="none" stroke="#fff" stroke-opacity="0.45" stroke-width="0.45"/>
<polyline points="433.5,170.0 440.7,177.2 447.9,185.3 455.1,197.1 462.3,204.7 469.5,209.8 476.7,225.5 483.9,243.4" fill="none" stroke="#fff" stroke-opacity="0.45" stroke-width="0.45"/>
</g>
<circle cx="383.1" cy="247.0" r="1.05" fill="#0a0a0a"/>
<circle cx="390.3" cy="229.4" r="1.05" fill="#0a0a0a"/>
<circle cx="397.5" cy="215.3" r="1.05" fill="#0a0a0a"/>
<circle cx="404.7" cy="206.3" r="1.05" fill="#0a0a0a"/>
<circle cx="411.9" cy="199.0" r="1.05" fill="#0a0a0a"/>
<circle cx="419.1" cy="188.1" r="1.05" fill="#0a0a0a"/>
<circle cx="426.3" cy="179.9" r="1.05" fill="#0a0a0a"/>
<circle cx="433.5" cy="170.0" r="1.05" fill="#0a0a0a"/>
<circle cx="390.3" cy="251.6" r="1.05" fill="#0a0a0a"/>
<circle cx="397.5" cy="234.7" r="1.05" fill="#0a0a0a"/>
<circle cx="404.7" cy="221.2" r="1.05" fill="#0a0a0a"/>
<circle cx="411.9" cy="212.4" r="1.05" fill="#0a0a0a"/>
<circle cx="419.1" cy="205.3" r="1.05" fill="#0a0a0a"/>
<circle cx="426.3" cy="194.8" r="1.05" fill="#0a0a0a"/>
<circle cx="433.5" cy="186.9" r="1.05" fill="#0a0a0a"/>
<circle cx="440.7" cy="177.2" r="1.05" fill="#0a0a0a"/>
<circle cx="397.5" cy="256.1" r="1.05" fill="#0a0a0a"/>
<circle cx="404.7" cy="240.3" r="1.05" fill="#0a0a0a"/>
<circle cx="411.9" cy="227.6" r="1.05" fill="#0a0a0a"/>
<circle cx="419.1" cy="219.1" r="1.05" fill="#0a0a0a"/>
<circle cx="426.3" cy="212.3" r="1.05" fill="#0a0a0a"/>
<circle cx="433.5" cy="202.2" r="1.05" fill="#0a0a0a"/>
<circle cx="440.7" cy="194.6" r="1.05" fill="#0a0a0a"/>
<circle cx="447.9" cy="185.3" r="1.05" fill="#0a0a0a"/>
<circle cx="404.7" cy="260.7" r="1.05" fill="#0a0a0a"/>
<circle cx="411.9" cy="247.0" r="1.05" fill="#0a0a0a"/>
<circle cx="419.1" cy="235.7" r="1.05" fill="#0a0a0a"/>
<circle cx="426.3" cy="228.0" r="1.05" fill="#0a0a0a"/>
<circle cx="433.5" cy="221.5" r="1.05" fill="#0a0a0a"/>
<circle cx="440.7" cy="212.5" r="1.05" fill="#0a0a0a"/>
<circle cx="447.9" cy="205.4" r="1.05" fill="#0a0a0a"/>
<circle cx="455.1" cy="197.1" r="1.05" fill="#0a0a0a"/>
<circle cx="411.9" cy="265.3" r="1.05" fill="#0a0a0a"/>
<circle cx="419.1" cy="252.4" r="1.05" fill="#0a0a0a"/>
<circle cx="426.3" cy="241.9" r="1.05" fill="#0a0a0a"/>
<circle cx="433.5" cy="234.4" r="1.05" fill="#0a0a0a"/>
<circle cx="440.7" cy="228.2" r="1.05" fill="#0a0a0a"/>
<circle cx="447.9" cy="219.6" r="1.05" fill="#0a0a0a"/>
<circle cx="455.1" cy="212.7" r="1.05" fill="#0a0a0a"/>
<circle cx="462.3" cy="204.7" r="1.05" fill="#0a0a0a"/>
<circle cx="419.1" cy="269.9" r="1.05" fill="#0a0a0a"/>
<circle cx="426.3" cy="257.1" r="1.05" fill="#0a0a0a"/>
<circle cx="433.5" cy="246.7" r="1.05" fill="#0a0a0a"/>
<circle cx="440.7" cy="239.3" r="1.05" fill="#0a0a0a"/>
<circle cx="447.9" cy="233.0" r="1.05" fill="#0a0a0a"/>
<circle cx="455.1" cy="224.5" r="1.05" fill="#0a0a0a"/>
<circle cx="462.3" cy="217.7" r="1.05" fill="#0a0a0a"/>
<circle cx="469.5" cy="209.8" r="1.05" fill="#0a0a0a"/>
<circle cx="426.3" cy="274.4" r="1.05" fill="#0a0a0a"/>
<circle cx="433.5" cy="264.9" r="1.05" fill="#0a0a0a"/>
<circle cx="440.7" cy="256.8" r="1.05" fill="#0a0a0a"/>
<circle cx="447.9" cy="250.5" r="1.05" fill="#0a0a0a"/>
<circle cx="455.1" cy="245.0" r="1.05" fill="#0a0a0a"/>
<circle cx="462.3" cy="238.0" r="1.05" fill="#0a0a0a"/>
<circle cx="469.5" cy="232.1" r="1.05" fill="#0a0a0a"/>
<circle cx="476.7" cy="225.5" r="1.05" fill="#0a0a0a"/>
<circle cx="433.5" cy="279.0" r="1.05" fill="#0a0a0a"/>
<circle cx="440.7" cy="273.4" r="1.05" fill="#0a0a0a"/>
<circle cx="447.9" cy="268.1" r="1.05" fill="#0a0a0a"/>
<circle cx="455.1" cy="263.1" r="1.05" fill="#0a0a0a"/>
<circle cx="462.3" cy="258.4" r="1.05" fill="#0a0a0a"/>
<circle cx="469.5" cy="253.3" r="1.05" fill="#0a0a0a"/>
<circle cx="476.7" cy="248.4" r="1.05" fill="#0a0a0a"/>
<circle cx="483.9" cy="243.4" r="1.05" fill="#0a0a0a"/>
<text font-size="7.0" font-weight="normal" text-anchor="end" fill="#000" stroke="#000" stroke-width="0.35" transform="translate(381.50 203.60) scale(0.9 1)">100</text>
<text font-size="7.0" font-weight="normal" text-anchor="end" fill="#000" stroke="#000" stroke-width="0.35" transform="translate(381.50 226.00) scale(0.9 1)">50</text>
<text font-size="7.0" font-weight="normal" text-anchor="end" fill="#000" stroke="#000" stroke-width="0.35" transform="translate(381.50 248.20) scale(0.9 1)">0</text>
<text font-size="7.2" font-weight="normal" text-anchor="middle" fill="#000" stroke="#000" stroke-width="0.35" transform="translate(374.00 257.20) scale(0.9 1)">0</text>
<text font-size="7.2" font-weight="normal" text-anchor="middle" fill="#000" stroke="#000" stroke-width="0.35" transform="translate(381.80 260.70) scale(0.9 1)">25</text>
<text font-size="7.2" font-weight="normal" text-anchor="middle" fill="#000" stroke="#000" stroke-width="0.35" transform="translate(388.30 264.70) scale(0.9 1)">50</text>
<text font-size="7.2" font-weight="normal" text-anchor="middle" fill="#000" stroke="#000" stroke-width="0.35" transform="translate(395.80 269.90) scale(0.9 1)">100</text>
<text font-size="7.2" font-weight="normal" text-anchor="middle" fill="#000" stroke="#000" stroke-width="0.35" transform="translate(404.30 274.70) scale(0.9 1)">150</text>
<text font-size="7.2" font-weight="normal" text-anchor="middle" fill="#000" stroke="#000" stroke-width="0.35" transform="translate(411.20 280.10) scale(0.9 1)">200</text>
<text font-size="7.2" font-weight="normal" text-anchor="middle" fill="#000" stroke="#000" stroke-width="0.35" transform="translate(420.30 284.50) scale(0.9 1)">250</text>
<text font-size="7.2" font-weight="normal" text-anchor="middle" fill="#000" stroke="#000" stroke-width="0.35" transform="translate(426.50 289.00) scale(0.9 1)">300</text>
<text font-size="7.2" font-weight="normal" text-anchor="middle" fill="#000" stroke="#000" stroke-width="0.35" transform="translate(442.50 288.70) scale(0.9 1)">10</text>
<text font-size="7.2" font-weight="normal" text-anchor="middle" fill="#000" stroke="#000" stroke-width="0.35" transform="translate(447.50 283.70) scale(0.9 1)">5</text>
<text font-size="7.2" font-weight="normal" text-anchor="middle" fill="#000" stroke="#000" stroke-width="0.35" transform="translate(456.50 280.00) scale(0.9 1)">2.5</text>
<text font-size="7.2" font-weight="normal" text-anchor="middle" fill="#000" stroke="#000" stroke-width="0.35" transform="translate(466.30 275.00) scale(0.9 1)">1.25</text>
<text font-size="7.2" font-weight="normal" text-anchor="middle" fill="#000" stroke="#000" stroke-width="0.35" transform="translate(476.50 270.20) scale(0.9 1)">0.625</text>
<text font-size="7.2" font-weight="normal" text-anchor="middle" fill="#000" stroke="#000" stroke-width="0.35" transform="translate(484.50 265.70) scale(0.9 1)">0.3125</text>
<text font-size="7.2" font-weight="normal" text-anchor="middle" fill="#000" stroke="#000" stroke-width="0.35" transform="translate(492.20 261.40) scale(0.9 1)">0.1562</text>
<text font-size="7.2" font-weight="normal" text-anchor="middle" fill="#000" stroke="#000" stroke-width="0.35" transform="translate(488.80 255.80) scale(0.9 1)">0</text>
<text x="387.40" y="291.30" font-size="5.95" font-weight="bold" text-anchor="middle" fill="#222">NVB (µmol/L)</text>
<text x="485.40" y="291.30" font-size="5.9" font-weight="bold" text-anchor="middle" fill="#222">Peposertib (µmol/L)</text>
<text font-size="6.5" font-weight="normal" text-anchor="middle" fill="#222" stroke="#222" stroke-width="0.3" transform="translate(364.60 226.00) rotate(-90) scale(0.95 1)">% Control</text>
<text x="453.70" y="162.00" font-size="7.1" font-weight="bold" text-anchor="middle" fill="#222">Peposertib (µmol/L)</text>
<rect x="499.30" y="170.00" width="9.60" height="108.80" fill="url(#cbar)" stroke="#999" stroke-width="0.4"/>
<text font-size="6.4" font-weight="bold" text-anchor="middle" fill="#222" transform="translate(517.30 195.50) rotate(-90)">Synergy</text>
<text font-size="6.4" font-weight="bold" text-anchor="middle" fill="#222" transform="translate(517.30 247.00) rotate(-90)">Antagonism</text>
</svg>
</body></html>
